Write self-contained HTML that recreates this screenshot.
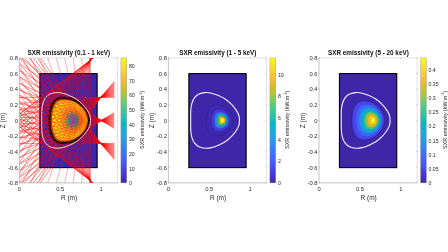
<!DOCTYPE html>
<html lang="en"><head><meta charset="utf-8"><title>SXR emissivity</title>
<style>html,body{margin:0;padding:0;background:#fff}body{width:448px;height:252px;overflow:hidden}svg{display:block}</style>
</head><body>
<svg width="448" height="252" viewBox="0 0 448 252" font-family='"Liberation Sans", Arial, Helvetica, sans-serif'>
<defs>
<linearGradient id="pg" x1="0" y1="1" x2="0" y2="0"><stop offset="0" stop-color="#3e26a8"/><stop offset="0.05" stop-color="#4332cb"/><stop offset="0.1" stop-color="#4741e5"/><stop offset="0.14" stop-color="#4852f4"/><stop offset="0.19" stop-color="#4563fd"/><stop offset="0.24" stop-color="#3875fe"/><stop offset="0.29" stop-color="#2e87f7"/><stop offset="0.33" stop-color="#2797eb"/><stop offset="0.38" stop-color="#20a5e3"/><stop offset="0.43" stop-color="#12b1d6"/><stop offset="0.48" stop-color="#02bac3"/><stop offset="0.52" stop-color="#24c1ae"/><stop offset="0.57" stop-color="#37c897"/><stop offset="0.62" stop-color="#57cc7a"/><stop offset="0.67" stop-color="#81cc59"/><stop offset="0.71" stop-color="#abc739"/><stop offset="0.76" stop-color="#d1bf27"/><stop offset="0.81" stop-color="#f0ba36"/><stop offset="0.86" stop-color="#fec338"/><stop offset="0.9" stop-color="#fad62d"/><stop offset="0.95" stop-color="#f5e924"/><stop offset="1" stop-color="#f9fb15"/></linearGradient>
<clipPath id="axclip"><rect x="19.4" y="57.9" width="98.2" height="125"/></clipPath>
<filter id="soft" x="0" y="0" width="448" height="252" filterUnits="userSpaceOnUse"><feGaussianBlur stdDeviation="0.32"/></filter>
</defs>
<rect width="448" height="252" fill="#fff"/>
<g filter="url(#soft)">
<g transform="translate(0 0)">
<rect x="19.4" y="57.9" width="98.2" height="125" fill="#fff" stroke="none"/>
<rect x="39.86" y="73.62" width="57.28" height="94" fill="#3e26a8" stroke="#000" stroke-width="1.1"/>
<path d="M89.14 120.4L88.88 117.41L88.11 114.48L86.85 111.64L85.15 108.96L83.08 106.47L80.72 104.22L78.13 102.24L75.39 100.58L72.6 99.26L69.81 98.29L65.72 97.71L62.72 97.52L60.23 97.71L58.1 98.29L56.27 99.26L54.7 100.58L53.36 102.24L52.24 104.22L51.33 106.47L50.6 108.96L50.04 111.64L49.65 114.48L49.42 117.41L49.34 120.4L49.42 123.39L49.65 126.32L50.04 129.16L50.6 131.84L51.33 134.33L52.24 136.58L53.36 138.56L54.7 140.22L56.27 141.54L58.1 142.51L60.23 143.09L62.72 143.28L65.72 143.09L69.81 142.51L72.6 141.54L75.39 140.22L78.13 138.56L80.72 136.58L83.08 134.33L85.15 131.84L86.85 129.16L88.11 126.32L88.88 123.39Z" fill="#4537d6"/>
<path d="M88.79 120.4L88.54 117.49L87.79 114.63L86.57 111.86L84.93 109.24L82.93 106.82L80.64 104.62L78.13 102.7L75.48 101.08L72.76 99.79L70.05 98.85L66.1 98.28L63.15 98.09L60.71 98.28L58.62 98.85L56.82 99.79L55.27 101.08L53.96 102.7L52.85 104.62L51.95 106.82L51.23 109.24L50.68 111.86L50.29 114.63L50.06 117.49L49.99 120.4L50.06 123.31L50.29 126.17L50.68 128.94L51.23 131.56L51.95 133.98L52.85 136.18L53.96 138.1L55.27 139.72L56.82 141.01L58.62 141.95L60.71 142.52L63.15 142.71L66.1 142.52L70.05 141.95L72.76 141.01L75.48 139.72L78.13 138.1L80.64 136.18L82.93 133.98L84.93 131.56L86.57 128.94L87.79 126.17L88.54 123.31Z" fill="#21a2e4"/>
<path d="M88.44 120.4L88.19 117.56L87.47 114.77L86.3 112.08L84.71 109.53L82.78 107.17L80.56 105.03L78.13 103.15L75.56 101.57L72.93 100.31L70.29 99.4L66.48 98.85L63.57 98.66L61.18 98.85L59.13 99.4L57.36 100.31L55.84 101.57L54.55 103.15L53.46 105.03L52.57 107.17L51.85 109.53L51.31 112.08L50.93 114.77L50.7 117.56L50.63 120.4L50.7 123.24L50.93 126.03L51.31 128.72L51.85 131.27L52.57 133.63L53.46 135.77L54.55 137.65L55.84 139.23L57.36 140.49L59.13 141.4L61.18 141.95L63.57 142.14L66.48 141.95L70.29 141.4L72.93 140.49L75.56 139.23L78.13 137.65L80.56 135.77L82.78 133.63L84.71 131.27L86.3 128.72L87.47 126.03L88.19 123.24Z" fill="#71cd64"/>
<path d="M88.09 120.4L87.85 117.64L87.15 114.92L86.02 112.3L84.49 109.82L82.62 107.51L80.48 105.43L78.13 103.61L75.64 102.07L73.08 100.84L70.52 99.95L66.85 99.41L63.99 99.23L61.64 99.41L59.63 99.95L57.9 100.84L56.41 102.07L55.13 103.61L54.07 105.43L53.18 107.51L52.48 109.82L51.95 112.3L51.57 114.92L51.34 117.64L51.27 120.4L51.34 123.16L51.57 125.88L51.95 128.5L52.48 130.98L53.18 133.29L54.07 135.37L55.13 137.19L56.41 138.73L57.9 139.96L59.63 140.85L61.64 141.39L63.99 141.57L66.85 141.39L70.52 140.85L73.08 139.96L75.64 138.73L78.13 137.19L80.48 135.37L82.62 133.29L84.49 130.98L86.02 128.5L87.15 125.88L87.85 123.16Z" fill="#fdcc32"/>
<path d="M87.73 120.4L87.5 117.71L86.83 115.07L85.74 112.52L84.27 110.1L82.47 107.86L80.39 105.84L78.12 104.06L75.71 102.56L73.23 101.37L70.74 100.51L67.21 99.98L64.4 99.8L62.1 99.98L60.14 100.51L58.44 101.37L56.97 102.56L55.72 104.06L54.67 105.84L53.8 107.86L53.11 110.1L52.58 112.52L52.21 115.07L51.98 117.71L51.91 120.4L51.98 123.09L52.21 125.73L52.58 128.28L53.11 130.7L53.8 132.94L54.67 134.96L55.72 136.74L56.97 138.24L58.44 139.43L60.14 140.29L62.1 140.82L64.4 141L67.21 140.82L70.74 140.29L73.23 139.43L75.71 138.24L78.12 136.74L80.39 134.96L82.47 132.94L84.27 130.7L85.74 128.28L86.83 125.73L87.5 123.09Z" fill="#f9fb15"/>
<path d="M87.38 120.4L87.16 117.79L86.51 115.22L85.46 112.74L84.04 110.39L82.3 108.21L80.3 106.24L78.11 104.51L75.78 103.06L73.38 101.9L70.96 101.06L67.57 100.55L64.81 100.38L62.56 100.55L60.63 101.06L58.97 101.9L57.53 103.06L56.3 104.51L55.27 106.24L54.42 108.21L53.73 110.39L53.21 112.74L52.84 115.22L52.63 117.79L52.55 120.4L52.63 123.01L52.84 125.58L53.21 128.06L53.73 130.41L54.42 132.59L55.27 134.56L56.3 136.29L57.53 137.74L58.97 138.9L60.63 139.74L62.56 140.25L64.81 140.42L67.57 140.25L70.96 139.74L73.38 138.9L75.78 137.74L78.11 136.29L80.3 134.56L82.3 132.59L84.04 130.41L85.46 128.06L86.51 125.58L87.16 123.01Z" fill="#f9fb15"/>
<path d="M87.02 120.4L86.81 117.86L86.19 115.37L85.18 112.96L83.81 110.67L82.14 108.56L80.21 106.65L78.09 104.97L75.84 103.55L73.52 102.43L71.18 101.61L67.92 101.11L65.21 100.95L63.01 101.11L61.13 101.61L59.49 102.43L58.09 103.55L56.88 104.97L55.87 106.65L55.03 108.56L54.36 110.67L53.84 112.96L53.48 115.37L53.26 117.86L53.19 120.4L53.26 122.94L53.48 125.43L53.84 127.84L54.36 130.13L55.03 132.24L55.87 134.15L56.88 135.83L58.09 137.25L59.49 138.37L61.13 139.19L63.01 139.69L65.21 139.85L67.92 139.69L71.18 139.19L73.52 138.37L75.84 137.25L78.09 135.83L80.21 134.15L82.14 132.24L83.81 130.13L85.18 127.84L86.19 125.43L86.81 122.94Z" fill="#f9fb15"/>
<path d="M86.67 120.4L86.47 117.94L85.87 115.51L84.9 113.17L83.58 110.96L81.97 108.91L80.11 107.05L78.07 105.42L75.89 104.05L73.65 102.96L71.38 102.16L68.26 101.68L65.61 101.52L63.45 101.68L61.61 102.16L60.02 102.96L58.64 104.05L57.46 105.42L56.46 107.05L55.64 108.91L54.98 110.96L54.47 113.17L54.12 115.51L53.9 117.94L53.83 120.4L53.9 122.86L54.12 125.29L54.47 127.63L54.98 129.84L55.64 131.89L56.46 133.75L57.46 135.38L58.64 136.75L60.02 137.84L61.61 138.64L63.45 139.12L65.61 139.28L68.26 139.12L71.38 138.64L73.65 137.84L75.89 136.75L78.07 135.38L80.11 133.75L81.97 131.89L83.58 129.84L84.9 127.63L85.87 125.29L86.47 122.86Z" fill="#f9fb15"/>
<path d="M86.31 120.4L86.12 118.01L85.55 115.66L84.61 113.39L83.35 111.25L81.8 109.25L80.01 107.45L78.04 105.88L75.94 104.54L73.77 103.49L71.59 102.72L68.6 102.25L65.99 102.09L63.89 102.25L62.1 102.72L60.54 103.49L59.19 104.54L58.03 105.88L57.06 107.45L56.25 109.25L55.6 111.25L55.1 113.39L54.75 115.66L54.54 118.01L54.47 120.4L54.54 122.79L54.75 125.14L55.1 127.41L55.6 129.55L56.25 131.55L57.06 133.35L58.03 134.92L59.19 136.26L60.54 137.31L62.1 138.08L63.89 138.55L65.99 138.71L68.6 138.55L71.59 138.08L73.77 137.31L75.94 136.26L78.04 134.92L80.01 133.35L81.8 131.55L83.35 129.55L84.61 127.41L85.55 125.14L86.12 122.79Z" fill="#f9fb15"/>
<path d="M85.96 120.4L85.77 118.09L85.22 115.81L84.33 113.61L83.11 111.53L81.62 109.6L79.9 107.86L78.01 106.33L75.99 105.04L73.9 104.01L71.78 103.27L68.93 102.82L66.38 102.66L64.33 102.82L62.57 103.27L61.05 104.01L59.74 105.04L58.61 106.33L57.65 107.86L56.86 109.6L56.22 111.53L55.73 113.61L55.39 115.81L55.18 118.09L55.11 120.4L55.18 122.71L55.39 124.99L55.73 127.19L56.22 129.27L56.86 131.2L57.65 132.94L58.61 134.47L59.74 135.76L61.05 136.79L62.57 137.53L64.33 137.98L66.38 138.14L68.93 137.98L71.78 137.53L73.9 136.79L75.99 135.76L78.01 134.47L79.9 132.94L81.62 131.2L83.11 129.27L84.33 127.19L85.22 124.99L85.77 122.71Z" fill="#f9fb15"/>
<path d="M85.6 120.4L85.42 118.16L84.9 115.96L84.04 113.83L82.87 111.82L81.45 109.95L79.8 108.26L77.97 106.78L76.03 105.54L74.01 104.54L71.97 103.82L69.26 103.38L66.75 103.24L64.76 103.38L63.05 103.82L61.56 104.54L60.28 105.54L59.17 106.78L58.24 108.26L57.46 109.95L56.84 111.82L56.36 113.83L56.02 115.96L55.82 118.16L55.75 120.4L55.82 122.64L56.02 124.84L56.36 126.97L56.84 128.98L57.46 130.85L58.24 132.54L59.17 134.02L60.28 135.26L61.56 136.26L63.05 136.98L64.76 137.42L66.75 137.56L69.26 137.42L71.97 136.98L74.01 136.26L76.03 135.26L77.97 134.02L79.8 132.54L81.45 130.85L82.87 128.98L84.04 126.97L84.9 124.84L85.42 122.64Z" fill="#f9f916"/>
<path d="M85.25 120.4L85.08 118.23L84.57 116.11L83.75 114.05L82.63 112.1L81.26 110.3L79.68 108.67L77.93 107.24L76.06 106.03L74.12 105.07L72.15 104.37L69.58 103.95L67.12 103.81L65.18 103.95L63.51 104.37L62.07 105.07L60.82 106.03L59.74 107.24L58.83 108.67L58.07 110.3L57.46 112.1L56.99 114.05L56.65 116.11L56.46 118.23L56.39 120.4L56.46 122.57L56.65 124.69L56.99 126.75L57.46 128.7L58.07 130.5L58.83 132.13L59.74 133.56L60.82 134.77L62.07 135.73L63.51 136.43L65.18 136.85L67.12 136.99L69.58 136.85L72.15 136.43L74.12 135.73L76.06 134.77L77.93 133.56L79.68 132.13L81.26 130.5L82.63 128.7L83.75 126.75L84.57 124.69L85.08 122.57Z" fill="#f8f719"/>
<path d="M84.89 120.4L84.73 118.31L84.24 116.25L83.46 114.27L82.39 112.39L81.08 110.65L79.56 109.07L77.88 107.69L76.09 106.53L74.22 105.6L72.33 104.93L69.9 104.52L67.49 104.38L65.59 104.52L63.98 104.93L62.57 105.6L61.35 106.53L60.3 107.69L59.41 109.07L58.67 110.65L58.07 112.39L57.61 114.27L57.29 116.25L57.09 118.31L57.03 120.4L57.09 122.49L57.29 124.55L57.61 126.53L58.07 128.41L58.67 130.15L59.41 131.73L60.3 133.11L61.35 134.27L62.57 135.2L63.98 135.87L65.59 136.28L67.49 136.42L69.9 136.28L72.33 135.87L74.22 135.2L76.09 134.27L77.88 133.11L79.56 131.73L81.08 130.15L82.39 128.41L83.46 126.53L84.24 124.55L84.73 122.49Z" fill="#f7f41c"/>
<path d="M84.53 120.4L84.38 118.38L83.92 116.4L83.17 114.49L82.15 112.68L80.89 111L79.44 109.48L77.83 108.14L76.11 107.02L74.32 106.13L72.5 105.48L70.21 105.08L67.84 104.95L66.01 105.08L64.43 105.48L63.07 106.13L61.88 107.02L60.86 108.14L59.99 109.48L59.27 111L58.69 112.68L58.24 114.49L57.92 116.4L57.73 118.38L57.67 120.4L57.73 122.42L57.92 124.4L58.24 126.31L58.69 128.12L59.27 129.8L59.99 131.32L60.86 132.66L61.88 133.78L63.07 134.67L64.43 135.32L66.01 135.72L67.84 135.85L70.21 135.72L72.5 135.32L74.32 134.67L76.11 133.78L77.83 132.66L79.44 131.32L80.89 129.8L82.15 128.12L83.17 126.31L83.92 124.4L84.38 122.42Z" fill="#f6f11f"/>
<path d="M84.17 120.4L84.03 118.46L83.59 116.55L82.87 114.71L81.9 112.96L80.7 111.34L79.32 109.88L77.78 108.6L76.13 107.52L74.41 106.66L72.66 106.03L70.51 105.65L68.19 105.52L66.41 105.65L64.89 106.03L63.56 106.66L62.41 107.52L61.42 108.6L60.57 109.88L59.87 111.34L59.3 112.96L58.86 114.71L58.55 116.55L58.37 118.46L58.3 120.4L58.37 122.34L58.55 124.25L58.86 126.09L59.3 127.84L59.87 129.46L60.57 130.92L61.42 132.2L62.41 133.28L63.56 134.14L64.89 134.77L66.41 135.15L68.19 135.28L70.51 135.15L72.66 134.77L74.41 134.14L76.13 133.28L77.78 132.2L79.32 130.92L80.7 129.46L81.9 127.84L82.87 126.09L83.59 124.25L84.03 122.34Z" fill="#f5ed22"/>
<path d="M83.82 120.4L83.68 118.53L83.26 116.7L82.57 114.93L81.65 113.25L80.51 111.69L79.18 110.29L77.72 109.05L76.14 108.01L74.49 107.19L72.82 106.58L70.81 106.22L68.54 106.1L66.81 106.22L65.33 106.58L64.05 107.19L62.93 108.01L61.97 109.05L61.15 110.29L60.46 111.69L59.91 113.25L59.48 114.93L59.18 116.7L59 118.53L58.94 120.4L59 122.27L59.18 124.1L59.48 125.87L59.91 127.55L60.46 129.11L61.15 130.51L61.97 131.75L62.93 132.79L64.05 133.61L65.33 134.22L66.81 134.58L68.54 134.7L70.81 134.58L72.82 134.22L74.49 133.61L76.14 132.79L77.72 131.75L79.18 130.51L80.51 129.11L81.65 127.55L82.57 125.87L83.26 124.1L83.68 122.27Z" fill="#f5e825"/>
<path d="M83.46 120.4L83.32 118.61L82.93 116.85L82.28 115.15L81.4 113.53L80.31 112.04L79.05 110.69L77.65 109.51L76.14 108.51L74.57 107.71L72.97 107.14L71.11 106.79L68.87 106.67L67.2 106.79L65.77 107.14L64.53 107.71L63.45 108.51L62.52 109.51L61.72 110.69L61.06 112.04L60.52 113.53L60.1 115.15L59.81 116.85L59.63 118.61L59.58 120.4L59.63 122.19L59.81 123.95L60.1 125.65L60.52 127.27L61.06 128.76L61.72 130.11L62.52 131.29L63.45 132.29L64.53 133.09L65.77 133.66L67.2 134.01L68.87 134.13L71.11 134.01L72.97 133.66L74.57 133.09L76.14 132.29L77.65 131.29L79.05 130.11L80.31 128.76L81.4 127.27L82.28 125.65L82.93 123.95L83.32 122.19Z" fill="#f5e227"/>
<path d="M83.1 120.4L82.97 118.68L82.59 116.99L81.98 115.36L81.14 113.82L80.11 112.39L78.91 111.1L77.58 109.96L76.14 109L74.64 108.24L73.11 107.69L71.42 107.35L69.2 107.24L67.59 107.35L66.21 107.69L65.01 108.24L63.97 109L63.06 109.96L62.29 111.1L61.65 112.39L61.13 113.82L60.72 115.36L60.44 116.99L60.27 118.68L60.21 120.4L60.27 122.12L60.44 123.81L60.72 125.44L61.13 126.98L61.65 128.41L62.29 129.7L63.06 130.84L63.97 131.8L65.01 132.56L66.21 133.11L67.59 133.45L69.2 133.56L71.42 133.45L73.11 133.11L74.64 132.56L76.14 131.8L77.58 130.84L78.91 129.7L80.11 128.41L81.14 126.98L81.98 125.44L82.59 123.81L82.97 122.12Z" fill="#f7db2a"/>
<path d="M82.74 120.4L82.62 118.76L82.26 117.14L81.68 115.58L80.88 114.11L79.91 112.74L78.77 111.5L77.5 110.41L76.14 109.5L74.71 108.77L73.25 108.24L71.74 107.92L69.53 107.81L67.97 107.92L66.64 108.24L65.49 108.77L64.48 109.5L63.61 110.41L62.86 111.5L62.24 112.74L61.73 114.11L61.34 115.58L61.07 117.14L60.9 118.76L60.85 120.4L60.9 122.04L61.07 123.66L61.34 125.22L61.73 126.69L62.24 128.06L62.86 129.3L63.61 130.39L64.48 131.3L65.49 132.03L66.64 132.56L67.97 132.88L69.53 132.99L71.74 132.88L73.25 132.56L74.71 132.03L76.14 131.3L77.5 130.39L78.77 129.3L79.91 128.06L80.88 126.69L81.68 125.22L82.26 123.66L82.62 122.04Z" fill="#fbd32e"/>
<path d="M82.37 120.4L82.26 118.83L81.92 117.29L81.37 115.8L80.62 114.39L79.7 113.09L78.62 111.9L77.42 110.87L76.12 110L74.77 109.3L73.37 108.79L71.98 108.49L69.84 108.39L68.34 108.49L67.06 108.79L65.95 109.3L64.98 110L64.14 110.87L63.42 111.9L62.82 113.09L62.34 114.39L61.96 115.8L61.69 117.29L61.53 118.83L61.48 120.4L61.53 121.97L61.69 123.51L61.96 125L62.34 126.41L62.82 127.71L63.42 128.9L64.14 129.93L64.98 130.8L65.95 131.5L67.06 132.01L68.34 132.31L69.84 132.41L71.98 132.31L73.37 132.01L74.77 131.5L76.12 130.8L77.42 129.93L78.62 128.9L79.7 127.71L80.62 126.41L81.37 125L81.92 123.51L82.26 121.97Z" fill="#fdcb33"/>
<path d="M82.01 120.4L81.9 118.91L81.58 117.44L81.07 116.02L80.36 114.68L79.49 113.43L78.47 112.31L77.33 111.32L76.11 110.49L74.82 109.83L73.5 109.35L72.17 109.06L70.15 108.96L68.7 109.06L67.48 109.35L66.42 109.83L65.49 110.49L64.68 111.32L63.99 112.31L63.41 113.43L62.94 114.68L62.57 116.02L62.32 117.44L62.16 118.91L62.11 120.4L62.16 121.89L62.32 123.36L62.57 124.78L62.94 126.12L63.41 127.37L63.99 128.49L64.68 129.48L65.49 130.31L66.42 130.97L67.48 131.45L68.7 131.74L70.15 131.84L72.17 131.74L73.5 131.45L74.82 130.97L76.11 130.31L77.33 129.48L78.47 128.49L79.49 127.37L80.36 126.12L81.07 124.78L81.58 123.36L81.9 121.89Z" fill="#fec13a"/>
<path d="M81.64 120.4L81.54 118.98L81.24 117.59L80.75 116.24L80.08 114.96L79.25 113.78L78.29 112.71L77.21 111.78L76.04 110.99L74.82 110.36L73.57 109.9L72.3 109.62L70.39 109.53L69.01 109.62L67.85 109.9L66.84 110.36L65.95 110.99L65.18 111.78L64.53 112.71L63.97 113.78L63.53 114.96L63.18 116.24L62.94 117.59L62.79 118.98L62.74 120.4L62.79 121.82L62.94 123.21L63.18 124.56L63.53 125.84L63.97 127.02L64.53 128.09L65.18 129.02L65.95 129.81L66.84 130.44L67.85 130.9L69.01 131.18L70.39 131.27L72.3 131.18L73.57 130.9L74.82 130.44L76.04 129.81L77.21 129.02L78.29 128.09L79.25 127.02L80.08 125.84L80.75 124.56L81.24 123.21L81.54 121.82Z" fill="#f8ba3d"/>
<path d="M81.28 120.4L81.18 119.06L80.9 117.73L80.43 116.46L79.8 115.25L79.01 114.13L78.1 113.12L77.07 112.23L75.97 111.48L74.81 110.89L73.62 110.45L72.43 110.19L70.61 110.1L69.31 110.19L68.21 110.45L67.25 110.89L66.41 111.48L65.68 112.23L65.06 113.12L64.54 114.13L64.11 115.25L63.79 116.46L63.55 117.73L63.41 119.06L63.37 120.4L63.41 121.74L63.55 123.07L63.79 124.34L64.11 125.55L64.54 126.67L65.06 127.68L65.68 128.57L66.41 129.32L67.25 129.91L68.21 130.35L69.31 130.61L70.61 130.7L72.43 130.61L73.62 130.35L74.81 129.91L75.97 129.32L77.07 128.57L78.1 127.68L79.01 126.67L79.8 125.55L80.43 124.34L80.9 123.07L81.18 121.74Z" fill="#e7bb2e"/>
<path d="M80.91 120.4L80.82 119.13L80.55 117.88L80.11 116.68L79.51 115.54L78.77 114.48L77.9 113.52L76.94 112.68L75.9 111.98L74.8 111.41L73.68 111.01L72.55 110.76L70.84 110.67L69.61 110.76L68.57 111.01L67.66 111.41L66.87 111.98L66.18 112.68L65.59 113.52L65.1 114.48L64.7 115.54L64.39 116.68L64.17 117.88L64.04 119.13L64 120.4L64.04 121.67L64.17 122.92L64.39 124.12L64.7 125.26L65.1 126.32L65.59 127.28L66.18 128.12L66.87 128.82L67.66 129.39L68.57 129.79L69.61 130.04L70.84 130.13L72.55 130.04L73.68 129.79L74.8 129.39L75.9 128.82L76.94 128.12L77.9 127.28L78.77 126.32L79.51 125.26L80.11 124.12L80.55 122.92L80.82 121.67Z" fill="#d1bf27"/>
<path d="M80.54 120.4L80.45 119.21L80.2 118.03L79.79 116.9L79.22 115.82L78.52 114.83L77.71 113.93L76.8 113.14L75.82 112.47L74.79 111.94L73.74 111.56L72.67 111.32L71.06 111.25L69.9 111.32L68.92 111.56L68.07 111.94L67.33 112.47L66.68 113.14L66.12 113.93L65.66 114.83L65.28 115.82L64.99 116.9L64.79 118.03L64.66 119.21L64.62 120.4L64.66 121.59L64.79 122.77L64.99 123.9L65.28 124.98L65.66 125.97L66.12 126.87L66.68 127.66L67.33 128.33L68.07 128.86L68.92 129.24L69.9 129.48L71.06 129.55L72.67 129.48L73.74 129.24L74.79 128.86L75.82 128.33L76.8 127.66L77.71 126.87L78.52 125.97L79.22 124.98L79.79 123.9L80.2 122.77L80.45 121.59Z" fill="#b6c532"/>
<path d="M80.17 120.4L80.09 119.28L79.85 118.18L79.46 117.12L78.93 116.11L78.28 115.18L77.52 114.33L76.66 113.59L75.75 112.97L74.78 112.47L73.79 112.11L72.79 111.89L71.28 111.82L70.2 111.89L69.28 112.11L68.48 112.47L67.78 112.97L67.17 113.59L66.65 114.33L66.22 115.18L65.86 116.11L65.59 117.12L65.4 118.18L65.28 119.28L65.24 120.4L65.28 121.52L65.4 122.62L65.59 123.68L65.86 124.69L66.22 125.62L66.65 126.47L67.17 127.21L67.78 127.83L68.48 128.33L69.28 128.69L70.2 128.91L71.28 128.98L72.79 128.91L73.79 128.69L74.78 128.33L75.75 127.83L76.66 127.21L77.52 126.47L78.28 125.62L78.93 124.69L79.46 123.68L79.85 122.62L80.09 121.52Z" fill="#96ca49"/>
<path d="M79.79 120.4L79.72 119.35L79.5 118.33L79.13 117.33L78.64 116.4L78.03 115.52L77.32 114.74L76.52 114.05L75.67 113.46L74.76 113L73.84 112.66L72.91 112.46L71.5 112.39L70.49 112.46L69.63 112.66L68.88 113L68.23 113.46L67.66 114.05L67.18 114.74L66.77 115.52L66.44 116.4L66.19 117.33L66.01 118.33L65.9 119.35L65.86 120.4L65.9 121.45L66.01 122.47L66.19 123.47L66.44 124.4L66.77 125.28L67.18 126.06L67.66 126.75L68.23 127.34L68.88 127.8L69.63 128.14L70.49 128.34L71.5 128.41L72.91 128.34L73.84 128.14L74.76 127.8L75.67 127.34L76.52 126.75L77.32 126.06L78.03 125.28L78.64 124.4L79.13 123.47L79.5 122.47L79.72 121.45Z" fill="#72cd63"/>
<path d="M79.42 120.4L79.35 119.43L79.14 118.48L78.8 117.55L78.34 116.68L77.78 115.87L77.12 115.14L76.38 114.5L75.58 113.96L74.75 113.53L73.89 113.22L73.02 113.03L71.71 112.96L70.77 113.03L69.98 113.22L69.28 113.53L68.68 113.96L68.15 114.5L67.7 115.14L67.33 115.87L67.02 116.68L66.78 117.55L66.61 118.48L66.51 119.43L66.48 120.4L66.51 121.37L66.61 122.32L66.78 123.25L67.02 124.12L67.33 124.93L67.7 125.66L68.15 126.3L68.68 126.84L69.28 127.27L69.98 127.58L70.77 127.77L71.71 127.84L73.02 127.77L73.89 127.58L74.75 127.27L75.58 126.84L76.38 126.3L77.12 125.66L77.78 124.93L78.34 124.12L78.8 123.25L79.14 122.32L79.35 121.37Z" fill="#50cc7f"/>
<path d="M79.03 120.4L78.97 119.5L78.78 118.62L78.47 117.77L78.05 116.97L77.52 116.22L76.91 115.55L76.23 114.95L75.5 114.45L74.72 114.06L73.93 113.77L73.14 113.59L71.92 113.53L71.06 113.59L70.32 113.77L69.68 114.06L69.12 114.45L68.64 114.95L68.22 115.55L67.87 116.22L67.59 116.97L67.37 117.77L67.22 118.62L67.12 119.5L67.09 120.4L67.12 121.3L67.22 122.18L67.37 123.03L67.59 123.83L67.87 124.58L68.22 125.25L68.64 125.85L69.12 126.35L69.68 126.74L70.32 127.03L71.06 127.21L71.92 127.27L73.14 127.21L73.93 127.03L74.72 126.74L75.5 126.35L76.23 125.85L76.91 125.25L77.52 124.58L78.05 123.83L78.47 123.03L78.78 122.18L78.97 121.3Z" fill="#37c898"/>
<path d="M78.65 120.4L78.59 119.58L78.42 118.77L78.13 117.99L77.74 117.25L77.26 116.57L76.7 115.95L76.08 115.41L75.41 114.95L74.7 114.59L73.97 114.32L73.24 114.16L72.13 114.11L71.34 114.16L70.66 114.32L70.08 114.59L69.56 114.95L69.12 115.41L68.74 115.95L68.42 116.57L68.16 117.25L67.96 117.99L67.82 118.77L67.73 119.58L67.7 120.4L67.73 121.22L67.82 122.03L67.96 122.81L68.16 123.55L68.42 124.23L68.74 124.85L69.12 125.39L69.56 125.85L70.08 126.21L70.66 126.48L71.34 126.64L72.13 126.69L73.24 126.64L73.97 126.48L74.7 126.21L75.41 125.85L76.08 125.39L76.7 124.85L77.26 124.23L77.74 123.55L78.13 122.81L78.42 122.03L78.59 121.22Z" fill="#27c2ac"/>
<path d="M78.26 120.4L78.21 119.65L78.05 118.92L77.79 118.21L77.44 117.54L77 116.92L76.49 116.35L75.92 115.86L75.31 115.45L74.67 115.11L74.01 114.87L73.34 114.73L72.33 114.68L71.61 114.73L71 114.87L70.47 115.11L70 115.45L69.6 115.86L69.25 116.35L68.96 116.92L68.72 117.54L68.54 118.21L68.41 118.92L68.33 119.65L68.31 120.4L68.33 121.15L68.41 121.88L68.54 122.59L68.72 123.26L68.96 123.88L69.25 124.45L69.6 124.94L70 125.35L70.47 125.69L71 125.93L71.61 126.07L72.33 126.12L73.34 126.07L74.01 125.93L74.67 125.69L75.31 125.35L75.92 124.94L76.49 124.45L77 123.88L77.44 123.26L77.79 122.59L78.05 121.88L78.21 121.15Z" fill="#09bcbe"/>
<path d="M77.86 120.4L77.82 119.73L77.67 119.07L77.44 118.43L77.12 117.83L76.73 117.27L76.27 116.76L75.76 116.31L75.21 115.94L74.63 115.64L74.04 115.43L73.44 115.29L72.53 115.25L71.88 115.29L71.33 115.43L70.85 115.64L70.43 115.94L70.07 116.31L69.76 116.76L69.49 117.27L69.28 117.83L69.12 118.43L69 119.07L68.93 119.73L68.91 120.4L68.93 121.07L69 121.73L69.12 122.37L69.28 122.97L69.49 123.53L69.76 124.04L70.07 124.49L70.43 124.86L70.85 125.16L71.33 125.37L71.88 125.51L72.53 125.55L73.44 125.51L74.04 125.37L74.63 125.16L75.21 124.86L75.76 124.49L76.27 124.04L76.73 123.53L77.12 122.97L77.44 122.37L77.67 121.73L77.82 121.07Z" fill="#06b6ce"/>
<path d="M77.46 120.4L77.42 119.8L77.29 119.22L77.09 118.65L76.8 118.11L76.46 117.61L76.05 117.16L75.59 116.77L75.1 116.44L74.59 116.17L74.06 115.98L73.53 115.86L72.72 115.82L72.14 115.86L71.65 115.98L71.23 116.17L70.86 116.44L70.53 116.77L70.25 117.16L70.02 117.61L69.83 118.11L69.69 118.65L69.59 119.22L69.52 119.8L69.5 120.4L69.52 121L69.59 121.58L69.69 122.15L69.83 122.69L70.02 123.19L70.25 123.64L70.53 124.03L70.86 124.36L71.23 124.63L71.65 124.82L72.14 124.94L72.72 124.98L73.53 124.94L74.06 124.82L74.59 124.63L75.1 124.36L75.59 124.03L76.05 123.64L76.46 123.19L76.8 122.69L77.09 122.15L77.29 121.58L77.42 121Z" fill="#18addb"/>
<path d="M77.05 120.4L77.02 119.88L76.91 119.36L76.72 118.87L76.48 118.4L76.17 117.96L75.82 117.57L75.42 117.22L74.99 116.93L74.54 116.7L74.08 116.53L73.61 116.43L72.91 116.4L72.4 116.43L71.97 116.53L71.6 116.7L71.27 116.93L70.99 117.22L70.75 117.57L70.54 117.96L70.38 118.4L70.25 118.87L70.16 119.36L70.11 119.88L70.09 120.4L70.11 120.92L70.16 121.44L70.25 121.93L70.38 122.4L70.54 122.84L70.75 123.23L70.99 123.58L71.27 123.87L71.6 124.1L71.97 124.27L72.4 124.37L72.91 124.4L73.61 124.37L74.08 124.27L74.54 124.1L74.99 123.87L75.42 123.58L75.82 123.23L76.17 122.84L76.48 122.4L76.72 121.93L76.91 121.44L77.02 120.92Z" fill="#21a4e3"/>
<path d="M76.64 120.4L76.61 119.95L76.51 119.51L76.36 119.09L76.14 118.68L75.88 118.31L75.58 117.97L75.24 117.68L74.87 117.43L74.48 117.23L74.09 117.08L73.69 117L73.08 116.97L72.65 117L72.28 117.08L71.96 117.23L71.68 117.43L71.44 117.68L71.23 117.97L71.06 118.31L70.92 118.68L70.81 119.09L70.73 119.51L70.68 119.95L70.67 120.4L70.68 120.85L70.73 121.29L70.81 121.71L70.92 122.12L71.06 122.49L71.23 122.83L71.44 123.12L71.68 123.37L71.96 123.57L72.28 123.72L72.65 123.8L73.08 123.83L73.69 123.8L74.09 123.72L74.48 123.57L74.87 123.37L75.24 123.12L75.58 122.83L75.88 122.49L76.14 122.12L76.36 121.71L76.51 121.29L76.61 120.85Z" fill="#269ae8"/>
<path d="M76.21 120.4L76.19 120.03L76.11 119.66L75.98 119.31L75.8 118.97L75.58 118.66L75.33 118.38L75.04 118.13L74.74 117.92L74.42 117.76L74.09 117.64L73.75 117.56L73.25 117.54L72.89 117.56L72.58 117.64L72.32 117.76L72.08 117.92L71.88 118.13L71.71 118.38L71.56 118.66L71.44 118.97L71.35 119.31L71.29 119.66L71.25 120.03L71.24 120.4L71.25 120.77L71.29 121.14L71.35 121.49L71.44 121.83L71.56 122.14L71.71 122.42L71.88 122.67L72.08 122.88L72.32 123.04L72.58 123.16L72.89 123.24L73.25 123.26L73.75 123.24L74.09 123.16L74.42 123.04L74.74 122.88L75.04 122.67L75.33 122.42L75.58 122.14L75.8 121.83L75.98 121.49L76.11 121.14L76.19 120.77Z" fill="#2b92ee"/>
<path d="M75.78 120.4L75.75 120.1L75.69 119.81L75.59 119.52L75.45 119.26L75.27 119.01L75.07 118.78L74.84 118.58L74.6 118.42L74.34 118.29L74.07 118.19L73.81 118.13L73.41 118.11L73.12 118.13L72.87 118.19L72.66 118.29L72.47 118.42L72.31 118.58L72.17 118.78L72.06 119.01L71.96 119.26L71.89 119.52L71.84 119.81L71.81 120.1L71.8 120.4L71.81 120.7L71.84 120.99L71.89 121.28L71.96 121.54L72.06 121.79L72.17 122.02L72.31 122.22L72.47 122.38L72.66 122.51L72.87 122.61L73.12 122.67L73.41 122.69L73.81 122.67L74.07 122.61L74.34 122.51L74.6 122.38L74.84 122.22L75.07 122.02L75.27 121.79L75.45 121.54L75.59 121.28L75.69 120.99L75.75 120.7Z" fill="#2d8af4"/>
<path d="M75.33 120.4L75.31 120.18L75.26 119.96L75.19 119.74L75.08 119.54L74.95 119.36L74.8 119.19L74.63 119.04L74.44 118.91L74.25 118.81L74.05 118.74L73.85 118.7L73.55 118.68L73.33 118.7L73.15 118.74L72.99 118.81L72.85 118.91L72.73 119.04L72.62 119.19L72.54 119.36L72.47 119.54L72.41 119.74L72.37 119.96L72.35 120.18L72.34 120.4L72.35 120.62L72.37 120.84L72.41 121.06L72.47 121.26L72.54 121.44L72.62 121.61L72.73 121.76L72.85 121.89L72.99 121.99L73.15 122.06L73.33 122.1L73.55 122.12L73.85 122.1L74.05 122.06L74.25 121.99L74.44 121.89L74.63 121.76L74.8 121.61L74.95 121.44L75.08 121.26L75.19 121.06L75.26 120.84L75.31 120.62Z" fill="#2e84f8"/>
<path d="M74.87 120.4L74.85 120.25L74.82 120.1L74.77 119.96L74.7 119.83L74.61 119.7L74.51 119.59L74.4 119.49L74.28 119.41L74.15 119.34L74.02 119.29L73.88 119.27L73.68 119.26L73.54 119.27L73.41 119.29L73.31 119.34L73.21 119.41L73.13 119.49L73.06 119.59L73.01 119.7L72.96 119.83L72.92 119.96L72.9 120.1L72.88 120.25L72.88 120.4L72.88 120.55L72.9 120.7L72.92 120.84L72.96 120.97L73.01 121.1L73.06 121.21L73.13 121.31L73.21 121.39L73.31 121.46L73.41 121.51L73.54 121.53L73.68 121.54L73.88 121.53L74.02 121.51L74.15 121.46L74.28 121.39L74.4 121.31L74.51 121.21L74.61 121.1L74.7 120.97L74.77 120.84L74.82 120.7L74.85 120.55Z" fill="#2f80fa"/>
<path d="M74.39 120.4L74.38 120.33L74.37 120.25L74.34 120.18L74.31 120.11L74.26 120.05L74.21 120L74.16 119.95L74.1 119.9L74.03 119.87L73.96 119.85L73.9 119.83L73.8 119.83L73.73 119.83L73.66 119.85L73.61 119.87L73.56 119.9L73.52 119.95L73.49 120L73.46 120.05L73.44 120.11L73.42 120.18L73.41 120.25L73.4 120.33L73.4 120.4L73.4 120.47L73.41 120.55L73.42 120.62L73.44 120.69L73.46 120.75L73.49 120.8L73.52 120.85L73.56 120.9L73.61 120.93L73.66 120.95L73.73 120.97L73.8 120.97L73.9 120.97L73.96 120.95L74.03 120.93L74.1 120.9L74.16 120.85L74.21 120.8L74.26 120.75L74.31 120.69L74.34 120.62L74.37 120.55L74.38 120.47Z" fill="#317efb"/>
<path d="M89.07 120.4L88.81 117.43L88.04 114.51L86.79 111.69L85.11 109.02L83.05 106.54L80.7 104.3L78.13 102.34L75.41 100.68L72.63 99.36L69.86 98.41L65.8 97.82L62.8 97.63L60.33 97.82L58.21 98.41L56.38 99.36L54.81 100.68L53.48 102.34L52.37 104.3L51.45 106.54L50.72 109.02L50.17 111.69L49.78 114.51L49.55 117.43L49.47 120.4L49.55 123.37L49.78 126.29L50.17 129.11L50.72 131.78L51.45 134.26L52.37 136.5L53.48 138.46L54.81 140.12L56.38 141.44L58.21 142.39L60.33 142.98L62.8 143.17L65.8 142.98L69.86 142.39L72.63 141.44L75.41 140.12L78.13 138.46L80.7 136.5L83.05 134.26L85.11 131.79L86.79 129.11L88.04 126.29L88.81 123.37Z" fill="none" stroke="#000" stroke-opacity="1.0" stroke-width="2.2"/>
<path d="M88.01 120.4L87.78 117.65L87.08 114.95L85.96 112.35L84.44 109.88L82.59 107.59L80.46 105.52L78.13 103.7L75.66 102.17L73.12 100.96L70.57 100.07L66.92 99.54L64.08 99.36L61.74 99.54L59.74 100.07L58.02 100.96L56.53 102.17L55.26 103.7L54.2 105.52L53.32 107.59L52.62 109.88L52.08 112.35L51.71 114.95L51.48 117.65L51.41 120.4L51.48 123.15L51.71 125.85L52.08 128.45L52.62 130.92L53.32 133.21L54.2 135.28L55.26 137.1L56.53 138.63L58.02 139.84L59.74 140.73L61.74 141.26L64.08 141.44L66.92 141.26L70.57 140.73L73.12 139.84L75.66 138.63L78.13 137.1L80.46 135.28L82.59 133.21L84.44 130.92L85.96 128.45L87.08 125.85L87.78 123.15Z" fill="none" stroke="#000" stroke-opacity="0.4" stroke-width="1.0"/>
<path d="M87.3 120.4L87.08 117.8L86.44 115.25L85.4 112.79L83.99 110.45L82.27 108.29L80.28 106.33L78.1 104.62L75.79 103.17L73.41 102.02L71.01 101.18L67.65 100.68L64.9 100.51L62.66 100.68L60.74 101.18L59.09 102.02L57.66 103.17L56.43 104.62L55.4 106.33L54.55 108.29L53.87 110.45L53.35 112.79L52.99 115.25L52.77 117.8L52.7 120.4L52.77 123L52.99 125.55L53.35 128.01L53.87 130.35L54.55 132.51L55.4 134.47L56.43 136.18L57.66 137.63L59.09 138.78L60.74 139.62L62.66 140.12L64.9 140.3L67.65 140.12L71.01 139.62L73.41 138.78L75.79 137.63L78.1 136.18L80.28 134.47L82.27 132.51L83.99 130.35L85.4 128.01L86.44 125.55L87.08 123Z" fill="none" stroke="#000" stroke-opacity="0.2" stroke-width="0.9"/>
<path d="M86.59 120.4L86.39 117.95L85.79 115.55L84.83 113.23L83.53 111.03L81.93 108.99L80.09 107.15L78.06 105.53L75.91 104.17L73.68 103.08L71.43 102.29L68.34 101.82L65.7 101.66L63.56 101.82L61.73 102.29L60.14 103.08L58.77 104.17L57.6 105.53L56.6 107.15L55.78 108.99L55.13 111.03L54.62 113.23L54.27 115.55L54.06 117.95L53.99 120.4L54.06 122.85L54.27 125.25L54.62 127.57L55.13 129.77L55.78 131.81L56.6 133.65L57.6 135.27L58.77 136.63L60.14 137.72L61.73 138.51L63.56 138.98L65.7 139.15L68.34 138.98L71.43 138.51L73.68 137.72L75.91 136.63L78.06 135.27L80.09 133.65L81.93 131.81L83.53 129.77L84.83 127.57L85.79 125.25L86.39 122.85Z" fill="none" stroke="#000" stroke-opacity="0.1" stroke-width="0.9"/>
<g clip-path="url(#axclip)" fill="none" stroke="#ff0000" stroke-width="0.45">
<path stroke-width="0.32" d="M90.1 60.4L90.1 460.4M90.1 60.4L62.47 459.44M90.1 60.4L35.22 456.62M90.1 60.4L8.73 452.04M90.1 60.4L-16.68 445.88M90.1 60.4L-40.78 438.38M90.1 60.4L-63.38 429.78"/>
<path stroke-width="0.42" d="M90.1 60.4L-84.38 420.34M90.1 60.4L-103.75 410.29M90.1 60.4L-121.48 399.86M90.1 60.4L-137.63 389.24M90.1 60.4L-152.29 378.59M90.1 60.4L-165.55 368.04M90.1 60.4L-177.53 357.68"/>
<path stroke-width="0.5" d="M90.1 60.4L-188.33 347.58M90.1 60.4L-198.07 337.81M90.1 60.4L-206.85 328.4M90.1 60.4L-214.76 319.36M90.1 60.4L-221.91 310.7"/>
<path stroke-width="0.75" d="M90.1 60.4L-228.36 302.43"/>
<path d="M90.1 60.4L90.1 30.4M90.1 60.4L92.2 30.47M90.1 60.4L94.27 30.69M90.1 60.4L96.28 31.04M90.1 60.4L98.21 31.52M90.1 60.4L100.03 32.09M90.1 60.4L101.74 32.75M90.1 60.4L103.33 33.47M90.1 60.4L104.79 34.24M90.1 60.4L106.12 35.04M90.1 60.4L107.33 35.84M90.1 60.4L108.43 36.65M90.1 60.4L109.42 37.45M90.1 60.4L110.32 38.24M90.1 60.4L111.12 39M90.1 60.4L111.85 39.74M90.1 60.4L112.5 40.45M90.1 60.4L113.09 41.13M90.1 60.4L113.62 41.78M90.1 60.4L114.1 42.4"/>
<path stroke-width="0.32" d="M90.1 180.4L90.1 -219.6M90.1 180.4L62.47 -218.64M90.1 180.4L35.22 -215.82M90.1 180.4L8.73 -211.24M90.1 180.4L-16.68 -205.08M90.1 180.4L-40.78 -197.58M90.1 180.4L-63.38 -188.98"/>
<path stroke-width="0.42" d="M90.1 180.4L-84.38 -179.54M90.1 180.4L-103.75 -169.49M90.1 180.4L-121.48 -159.06M90.1 180.4L-137.63 -148.44M90.1 180.4L-152.29 -137.79M90.1 180.4L-165.55 -127.24M90.1 180.4L-177.53 -116.88"/>
<path stroke-width="0.5" d="M90.1 180.4L-188.33 -106.78M90.1 180.4L-198.07 -97.01M90.1 180.4L-206.85 -87.6M90.1 180.4L-214.76 -78.56M90.1 180.4L-221.91 -69.9"/>
<path stroke-width="0.75" d="M90.1 180.4L-228.36 -61.63"/>
<path d="M90.1 180.4L90.1 210.4M90.1 180.4L92.2 210.33M90.1 180.4L94.27 210.11M90.1 180.4L96.28 209.76M90.1 180.4L98.21 209.28M90.1 180.4L100.03 208.71M90.1 180.4L101.74 208.05M90.1 180.4L103.33 207.33M90.1 180.4L104.79 206.56M90.1 180.4L106.12 205.76M90.1 180.4L107.33 204.96M90.1 180.4L108.43 204.15M90.1 180.4L109.42 203.35M90.1 180.4L110.32 202.56M90.1 180.4L111.12 201.8M90.1 180.4L111.85 201.06M90.1 180.4L112.5 200.35M90.1 180.4L113.09 199.67M90.1 180.4L113.62 199.02M90.1 180.4L114.1 198.4"/>
<path d="M100.6 97.4L-299.4 97.4M100.6 97.4L-298.29 127.21M100.6 97.4L-295.01 156.53M100.6 97.4L-289.71 184.91M100.6 97.4L-282.64 211.97M100.6 97.4L-274.09 237.42M100.6 97.4L-264.38 261.07M100.6 97.4L-253.83 282.82M100.6 97.4L-242.72 302.67M100.6 97.4L-231.3 320.65M100.6 97.4L-219.8 336.86M100.6 97.4L-208.39 351.42M100.6 97.4L-197.18 364.47M100.6 97.4L-186.29 376.14M100.6 97.4L-175.77 386.57M100.6 97.4L-165.67 395.9M100.6 97.4L-156 404.25M100.6 97.4L-146.79 411.72M100.6 97.4L-138.03 418.42M100.6 97.4L-129.71 424.44"/>
<path d="M100.6 97.4L114.4 97.4M100.6 97.4L114.4 96.56M100.6 97.4L114.4 95.71M100.6 97.4L114.4 94.87M100.6 97.4L114.4 94.03M100.6 97.4L114.4 93.19M100.6 97.4L114.4 92.34M100.6 97.4L114.4 91.5M100.6 97.4L114.4 90.66M100.6 97.4L114.4 89.82M100.6 97.4L114.4 88.97M100.6 97.4L114.4 88.13M100.6 97.4L114.4 87.29M100.6 97.4L114.4 86.45M100.6 97.4L114.4 85.6M100.6 97.4L114.4 84.76M100.6 97.4L114.4 83.92M100.6 97.4L114.4 83.08M100.6 97.4L114.4 82.23M100.6 97.4L114.4 81.39"/>
<path d="M100.6 143.4L-299.4 143.4M100.6 143.4L-298.29 113.59M100.6 143.4L-295.01 84.27M100.6 143.4L-289.71 55.89M100.6 143.4L-282.64 28.83M100.6 143.4L-274.09 3.38M100.6 143.4L-264.38 -20.27M100.6 143.4L-253.83 -42.02M100.6 143.4L-242.72 -61.87M100.6 143.4L-231.3 -79.85M100.6 143.4L-219.8 -96.06M100.6 143.4L-208.39 -110.62M100.6 143.4L-197.18 -123.67M100.6 143.4L-186.29 -135.34M100.6 143.4L-175.77 -145.77M100.6 143.4L-165.67 -155.1M100.6 143.4L-156 -163.45M100.6 143.4L-146.79 -170.92M100.6 143.4L-138.03 -177.62M100.6 143.4L-129.71 -183.64"/>
<path d="M100.6 143.4L114.4 143.4M100.6 143.4L114.4 144.24M100.6 143.4L114.4 145.09M100.6 143.4L114.4 145.93M100.6 143.4L114.4 146.77M100.6 143.4L114.4 147.61M100.6 143.4L114.4 148.46M100.6 143.4L114.4 149.3M100.6 143.4L114.4 150.14M100.6 143.4L114.4 150.98M100.6 143.4L114.4 151.83M100.6 143.4L114.4 152.67M100.6 143.4L114.4 153.51M100.6 143.4L114.4 154.35M100.6 143.4L114.4 155.2M100.6 143.4L114.4 156.04M100.6 143.4L114.4 156.88M100.6 143.4L114.4 157.72M100.6 143.4L114.4 158.57M100.6 143.4L114.4 159.41"/>
<path d="M101.2 120.5L-214.2 -125.51M101.2 120.5L-226.82 -108.42M101.2 120.5L-239.4 -89.24M101.2 120.5L-251.69 -67.83M101.2 120.5L-263.35 -44.12M101.2 120.5L-274.01 -18.13M101.2 120.5L-283.24 10.02M101.2 120.5L-290.63 40.07M101.2 120.5L-295.8 71.61M101.2 120.5L-298.46 104.09M101.2 120.5L-298.46 136.91M101.2 120.5L-295.8 169.39M101.2 120.5L-290.63 200.93M101.2 120.5L-283.24 230.98M101.2 120.5L-274.01 259.13M101.2 120.5L-263.35 285.12M101.2 120.5L-251.69 308.83M101.2 120.5L-239.4 330.24M101.2 120.5L-226.82 349.42M101.2 120.5L-214.2 366.51"/>
<path d="M101.2 120.5L114.2 112.57M101.2 120.5L114.2 113.4M101.2 120.5L114.2 114.24M101.2 120.5L114.2 115.07M101.2 120.5L114.2 115.91M101.2 120.5L114.2 116.74M101.2 120.5L114.2 117.58M101.2 120.5L114.2 118.41M101.2 120.5L114.2 119.25M101.2 120.5L114.2 120.08M101.2 120.5L114.2 120.92M101.2 120.5L114.2 121.75M101.2 120.5L114.2 122.59M101.2 120.5L114.2 123.42M101.2 120.5L114.2 124.26M101.2 120.5L114.2 125.09M101.2 120.5L114.2 125.93M101.2 120.5L114.2 126.76M101.2 120.5L114.2 127.6M101.2 120.5L114.2 128.43"/>
</g>
<g opacity="0.28">
<path d="M88.22 120.4L87.98 117.61L87.28 114.86L86.13 112.21L84.58 109.71L82.69 107.38L80.51 105.27L78.13 103.43L75.61 101.88L73.02 100.64L70.43 99.74L66.7 99.19L63.83 99.01L61.46 99.19L59.44 99.74L57.69 100.64L56.19 101.88L54.91 103.43L53.83 105.27L52.95 107.38L52.24 109.71L51.7 112.21L51.32 114.86L51.1 117.61L51.02 120.4L51.1 123.19L51.32 125.94L51.7 128.59L52.24 131.09L52.95 133.42L53.83 135.53L54.91 137.37L56.19 138.92L57.69 140.16L59.44 141.06L61.46 141.61L63.83 141.79L66.7 141.61L70.43 141.06L73.02 140.16L75.61 138.92L78.13 137.37L80.51 135.53L82.69 133.42L84.58 131.1L86.13 128.59L87.28 125.94L87.98 123.19Z" fill="#f5e725"/>
<path d="M87.34 120.4L87.12 117.79L86.48 115.23L85.43 112.76L84.02 110.42L82.29 108.25L80.3 106.28L78.11 104.56L75.78 103.11L73.39 101.96L70.99 101.12L67.6 100.61L64.85 100.44L62.61 100.61L60.69 101.12L59.02 101.96L57.59 103.11L56.36 104.56L55.33 106.28L54.48 108.25L53.8 110.42L53.28 112.76L52.91 115.23L52.69 117.79L52.62 120.4L52.69 123.01L52.91 125.57L53.28 128.04L53.8 130.38L54.48 132.55L55.33 134.52L56.36 136.24L57.59 137.69L59.02 138.84L60.69 139.68L62.61 140.19L64.85 140.36L67.6 140.19L70.99 139.68L73.39 138.84L75.78 137.69L78.11 136.24L80.3 134.52L82.29 132.55L84.02 130.38L85.43 128.04L86.48 125.57L87.12 123.01Z" fill="#f9fb15"/>
<path d="M86.46 120.4L86.26 117.98L85.68 115.6L84.73 113.31L83.44 111.13L81.87 109.11L80.05 107.29L78.05 105.69L75.92 104.35L73.72 103.27L71.51 102.49L68.46 102.02L65.84 101.86L63.72 102.02L61.9 102.49L60.33 103.27L58.97 104.35L57.8 105.69L56.82 107.29L56 109.11L55.35 111.13L54.85 113.31L54.5 115.6L54.29 117.98L54.22 120.4L54.29 122.82L54.5 125.2L54.85 127.49L55.35 129.67L56 131.69L56.82 133.51L57.8 135.11L58.97 136.45L60.33 137.53L61.9 138.31L63.72 138.78L65.84 138.94L68.46 138.78L71.51 138.31L73.72 137.53L75.92 136.45L78.05 135.11L80.05 133.51L81.87 131.69L83.44 129.67L84.73 127.49L85.68 125.2L86.26 122.82Z" fill="#f9fb15"/>
<path d="M85.57 120.4L85.39 118.17L84.87 115.97L84.01 113.85L82.85 111.84L81.43 109.98L79.78 108.3L77.97 106.82L76.03 105.58L74.02 104.59L71.99 103.87L69.29 103.43L66.79 103.29L64.79 103.43L63.09 103.87L61.61 104.59L60.33 105.58L59.23 106.82L58.29 108.3L57.52 109.98L56.89 111.84L56.42 113.85L56.08 115.97L55.88 118.17L55.81 120.4L55.88 122.63L56.08 124.83L56.42 126.95L56.89 128.96L57.52 130.82L58.29 132.5L59.23 133.98L60.33 135.22L61.61 136.21L63.09 136.93L64.79 137.37L66.79 137.51L69.29 137.37L71.99 136.93L74.02 136.21L76.03 135.22L77.97 133.98L79.78 132.5L81.43 130.82L82.85 128.96L84.01 126.95L84.87 124.83L85.39 122.63Z" fill="#f8f718"/>
<path d="M84.68 120.4L84.52 118.35L84.05 116.34L83.29 114.4L82.25 112.56L80.97 110.85L79.49 109.31L77.85 107.96L76.1 106.82L74.28 105.91L72.43 105.25L70.08 104.85L67.7 104.71L65.83 104.85L64.24 105.25L62.86 105.91L61.66 106.82L60.63 107.96L59.75 109.31L59.02 110.85L58.43 112.56L57.98 114.4L57.66 116.34L57.47 118.35L57.4 120.4L57.47 122.45L57.66 124.46L57.98 126.4L58.43 128.24L59.02 129.95L59.75 131.49L60.63 132.84L61.66 133.98L62.86 134.89L64.24 135.55L65.83 135.95L67.7 136.09L70.08 135.95L72.43 135.55L74.28 134.89L76.1 133.98L77.85 132.84L79.49 131.49L80.97 129.95L82.25 128.24L83.29 126.4L84.05 124.46L84.52 122.45Z" fill="#f6f020"/>
<path d="M83.79 120.4L83.65 118.54L83.23 116.71L82.55 114.94L81.63 113.27L80.49 111.72L79.17 110.32L77.71 109.09L76.14 108.05L74.5 107.23L72.83 106.63L70.84 106.26L68.56 106.14L66.84 106.26L65.37 106.63L64.09 107.23L62.97 108.05L62.01 109.09L61.19 110.32L60.51 111.72L59.96 113.27L59.53 114.94L59.23 116.71L59.05 118.54L58.99 120.4L59.05 122.26L59.23 124.09L59.53 125.86L59.96 127.53L60.51 129.08L61.19 130.48L62.01 131.71L62.97 132.75L64.09 133.57L65.37 134.17L66.84 134.54L68.56 134.66L70.84 134.54L72.83 134.17L74.5 133.57L76.14 132.75L77.71 131.71L79.17 130.48L80.49 129.08L81.63 127.53L82.55 125.86L83.23 124.09L83.65 122.26Z" fill="#f5e327"/>
<path d="M82.89 120.4L82.77 118.72L82.4 117.08L81.81 115.49L81 113.98L79.99 112.59L78.83 111.32L77.54 110.22L76.14 109.29L74.68 108.54L73.19 108L71.59 107.68L69.39 107.57L67.8 107.68L66.45 108L65.28 108.54L64.26 109.29L63.37 110.22L62.62 111.32L61.98 112.59L61.47 113.98L61.08 115.49L60.79 117.08L60.63 118.72L60.57 120.4L60.63 122.08L60.79 123.72L61.08 125.31L61.47 126.82L61.98 128.21L62.62 129.48L63.37 130.58L64.26 131.51L65.28 132.26L66.45 132.8L67.8 133.12L69.39 133.23L71.59 133.12L73.19 132.8L74.68 132.26L76.14 131.51L77.54 130.58L78.83 129.48L79.99 128.21L81 126.82L81.81 125.31L82.4 123.72L82.77 122.08Z" fill="#fcd130"/>
<path d="M81.99 120.4L81.88 118.91L81.56 117.45L81.05 116.03L80.34 114.7L79.47 113.46L78.46 112.33L77.33 111.35L76.11 110.52L74.82 109.86L73.5 109.38L72.18 109.09L70.17 108.99L68.73 109.09L67.51 109.38L66.44 109.86L65.52 110.52L64.71 111.35L64.02 112.33L63.44 113.46L62.97 114.7L62.61 116.03L62.35 117.45L62.2 118.91L62.15 120.4L62.2 121.89L62.35 123.35L62.61 124.77L62.97 126.1L63.44 127.34L64.02 128.47L64.71 129.45L65.52 130.28L66.44 130.94L67.51 131.42L68.73 131.71L70.17 131.81L72.18 131.71L73.5 131.42L74.82 130.94L76.11 130.28L77.33 129.45L78.46 128.47L79.47 127.34L80.34 126.1L81.05 124.77L81.56 123.35L81.88 121.89Z" fill="#fabb3d"/>
<path d="M81.07 120.4L80.98 119.1L80.71 117.82L80.25 116.58L79.64 115.41L78.88 114.32L77.99 113.34L77 112.48L75.93 111.76L74.81 111.18L73.66 110.76L72.5 110.5L70.74 110.42L69.48 110.5L68.41 110.76L67.48 111.18L66.67 111.76L65.96 112.48L65.36 113.34L64.85 114.32L64.44 115.41L64.12 116.58L63.89 117.82L63.76 119.1L63.71 120.4L63.76 121.7L63.89 122.98L64.12 124.22L64.44 125.39L64.85 126.48L65.36 127.46L65.96 128.32L66.67 129.04L67.48 129.62L68.41 130.04L69.48 130.3L70.74 130.38L72.5 130.3L73.66 130.04L74.81 129.62L75.93 129.04L77 128.32L77.99 127.46L78.88 126.48L79.64 125.39L80.25 124.22L80.71 122.98L80.98 121.7Z" fill="#c9c129"/>
<path d="M80.15 120.4L80.07 119.28L79.83 118.19L79.45 117.13L78.92 116.12L78.27 115.19L77.51 114.35L76.66 113.61L75.74 112.99L74.78 112.5L73.79 112.14L72.8 111.92L71.29 111.84L70.21 111.92L69.29 112.14L68.5 112.5L67.8 112.99L67.19 113.61L66.68 114.35L66.24 115.19L65.89 116.12L65.62 117.13L65.43 118.19L65.31 119.28L65.27 120.4L65.31 121.52L65.43 122.61L65.62 123.67L65.89 124.68L66.24 125.61L66.68 126.45L67.19 127.19L67.8 127.81L68.5 128.3L69.29 128.66L70.21 128.88L71.29 128.96L72.8 128.88L73.79 128.66L74.78 128.3L75.74 127.81L76.66 127.19L77.51 126.45L78.27 125.61L78.92 124.68L79.45 123.67L79.83 122.61L80.07 121.52Z" fill="#7acc5e"/>
<path d="M79.21 120.4L79.14 119.47L78.95 118.55L78.62 117.67L78.18 116.84L77.64 116.06L77.01 115.36L76.3 114.74L75.54 114.23L74.73 113.81L73.91 113.51L73.08 113.33L71.83 113.27L70.93 113.33L70.16 113.51L69.5 113.81L68.92 114.23L68.41 114.74L67.98 115.36L67.62 116.06L67.33 116.84L67.1 117.67L66.94 118.55L66.84 119.47L66.81 120.4L66.84 121.33L66.94 122.25L67.1 123.13L67.33 123.97L67.62 124.74L67.98 125.44L68.41 126.06L68.92 126.57L69.5 126.99L70.16 127.29L70.93 127.47L71.83 127.53L73.08 127.47L73.91 127.29L74.73 126.99L75.54 126.57L76.3 126.06L77.01 125.44L77.64 124.74L78.18 123.97L78.62 123.13L78.95 122.25L79.14 121.33Z" fill="#32c69e"/>
<path d="M78.25 120.4L78.19 119.66L78.04 118.92L77.78 118.22L77.43 117.55L76.99 116.93L76.48 116.37L75.92 115.87L75.31 115.46L74.67 115.13L74.01 114.89L73.35 114.74L72.34 114.7L71.62 114.74L71.01 114.89L70.48 115.13L70.01 115.46L69.61 115.87L69.26 116.37L68.98 116.93L68.74 117.55L68.56 118.22L68.43 118.92L68.35 119.66L68.33 120.4L68.35 121.14L68.43 121.88L68.56 122.58L68.74 123.25L68.98 123.87L69.26 124.43L69.61 124.93L70.01 125.34L70.48 125.67L71.01 125.91L71.62 126.06L72.34 126.1L73.35 126.06L74.01 125.91L74.67 125.67L75.31 125.34L75.92 124.93L76.48 124.43L76.99 123.87L77.43 123.25L77.78 122.58L78.04 121.88L78.19 121.14Z" fill="#02b7cb"/>
<path d="M77.25 120.4L77.21 119.84L77.09 119.29L76.9 118.76L76.63 118.26L76.31 117.8L75.93 117.37L75.5 117.01L75.05 116.7L74.56 116.45L74.07 116.27L73.57 116.16L72.82 116.12L72.28 116.16L71.82 116.27L71.42 116.45L71.07 116.7L70.77 117.01L70.51 117.37L70.3 117.8L70.12 118.26L69.98 118.76L69.89 119.29L69.83 119.84L69.81 120.4L69.83 120.96L69.89 121.51L69.98 122.04L70.12 122.54L70.3 123L70.51 123.43L70.77 123.79L71.07 124.1L71.42 124.35L71.82 124.53L72.28 124.64L72.82 124.68L73.57 124.64L74.07 124.53L74.56 124.35L75.05 124.1L75.5 123.79L75.93 123.43L76.31 123L76.63 122.54L76.9 122.04L77.09 121.51L77.21 120.96Z" fill="#22a1e4"/>
<path d="M76.21 120.4L76.18 120.03L76.1 119.66L75.97 119.31L75.8 118.97L75.58 118.66L75.32 118.38L75.04 118.14L74.74 117.93L74.42 117.77L74.09 117.65L73.76 117.57L73.25 117.55L72.89 117.57L72.59 117.65L72.32 117.77L72.09 117.93L71.89 118.14L71.71 118.38L71.57 118.66L71.45 118.97L71.36 119.31L71.3 119.66L71.26 120.03L71.25 120.4L71.26 120.77L71.3 121.14L71.36 121.49L71.45 121.83L71.57 122.14L71.71 122.42L71.89 122.66L72.09 122.87L72.32 123.03L72.59 123.15L72.89 123.23L73.25 123.25L73.76 123.23L74.09 123.15L74.42 123.03L74.74 122.87L75.04 122.66L75.32 122.42L75.58 122.14L75.8 121.83L75.97 121.49L76.1 121.14L76.18 120.77Z" fill="#2d8cf3"/>
<path d="M75.09 120.4L75.08 120.21L75.04 120.03L74.98 119.85L74.89 119.69L74.78 119.53L74.65 119.39L74.51 119.27L74.36 119.17L74.2 119.08L74.03 119.02L73.87 118.99L73.62 118.97L73.44 118.99L73.29 119.02L73.15 119.08L73.04 119.17L72.94 119.27L72.85 119.39L72.78 119.53L72.72 119.69L72.67 119.85L72.64 120.03L72.62 120.21L72.61 120.4L72.62 120.59L72.64 120.77L72.67 120.95L72.72 121.11L72.78 121.27L72.85 121.41L72.94 121.53L73.04 121.63L73.15 121.72L73.29 121.78L73.44 121.81L73.62 121.83L73.87 121.81L74.03 121.78L74.2 121.72L74.36 121.63L74.51 121.53L74.65 121.41L74.78 121.27L74.89 121.11L74.98 120.95L75.04 120.77L75.08 120.59Z" fill="#307ffb"/>
</g>
<path d="M89.07 120.4L88.81 117.43L88.04 114.51L86.79 111.69L85.11 109.02L83.05 106.54L80.7 104.3L78.13 102.34L75.41 100.68L72.63 99.36L69.86 98.41L65.8 97.82L62.8 97.63L60.33 97.82L58.21 98.41L56.38 99.36L54.81 100.68L53.48 102.34L52.37 104.3L51.45 106.54L50.72 109.02L50.17 111.69L49.78 114.51L49.55 117.43L49.47 120.4L49.55 123.37L49.78 126.29L50.17 129.11L50.72 131.78L51.45 134.26L52.37 136.5L53.48 138.46L54.81 140.12L56.38 141.44L58.21 142.39L60.33 142.98L62.8 143.17L65.8 142.98L69.86 142.39L72.63 141.44L75.41 140.12L78.13 138.46L80.7 136.5L83.05 134.26L85.11 131.79L86.79 129.11L88.04 126.29L88.81 123.37Z" fill="none" stroke="#000" stroke-opacity="0.72" stroke-width="2.0" stroke-dasharray="1.5 0.7"/>
<path d="M88.08 120.4L87.84 117.64L87.15 114.92L86.02 112.3L84.49 109.82L82.62 107.52L80.48 105.44L78.13 103.61L75.64 102.07L73.08 100.85L70.52 99.96L66.85 99.42L64 99.24L61.65 99.42L59.64 99.96L57.91 100.85L56.42 102.07L55.14 103.61L54.07 105.44L53.19 107.52L52.49 109.82L51.95 112.3L51.58 114.92L51.35 117.64L51.28 120.4L51.35 123.16L51.58 125.88L51.95 128.5L52.49 130.98L53.19 133.28L54.07 135.36L55.14 137.19L56.42 138.73L57.91 139.95L59.64 140.84L61.65 141.38L64 141.56L66.85 141.38L70.52 140.84L73.08 139.95L75.64 138.73L78.13 137.19L80.48 135.36L82.62 133.28L84.49 130.98L86.02 128.5L87.15 125.88L87.84 123.16Z" fill="none" stroke="#300" stroke-opacity="0.45" stroke-width="1.0"/>
<path d="M90.5 120.4C90.5 118.5 90.22 116.5 89.6 114.7C88.98 112.9 88.02 111.35 86.8 109.6C85.58 107.85 84.02 105.92 82.3 104.2C80.58 102.48 78.63 100.73 76.5 99.3C74.37 97.87 71.83 96.62 69.5 95.6C67.17 94.58 64.75 93.7 62.5 93.2C60.25 92.7 58.08 92.47 56 92.6C53.92 92.73 51.73 93.17 50 94C48.27 94.83 46.77 96.1 45.6 97.6C44.43 99.1 43.62 101.13 43 103C42.38 104.87 42.12 106.88 41.9 108.8C41.68 110.72 41.73 112.57 41.7 114.5C41.67 116.43 41.7 118.43 41.7 120.4C41.7 122.37 41.67 124.37 41.7 126.3C41.73 128.23 41.68 130.08 41.9 132C42.12 133.92 42.38 135.93 43 137.8C43.62 139.67 44.43 141.7 45.6 143.2C46.77 144.7 48.27 145.97 50 146.8C51.73 147.63 53.92 148.07 56 148.2C58.08 148.33 60.25 148.1 62.5 147.6C64.75 147.1 67.17 146.22 69.5 145.2C71.83 144.18 74.37 142.93 76.5 141.5C78.63 140.07 80.58 138.32 82.3 136.6C84.02 134.88 85.58 132.95 86.8 131.2C88.02 129.45 88.98 127.9 89.6 126.1C90.22 124.3 90.5 122.3 90.5 120.4Z" fill="none" stroke="#f6f2fb" stroke-width="1.0"/>
<path d="M90.5 120.4C90.5 118.5 90.22 116.5 89.6 114.7C88.98 112.9 88.02 111.35 86.8 109.6C85.58 107.85 84.02 105.92 82.3 104.2C80.58 102.48 78.63 100.73 76.5 99.3C74.37 97.87 71.83 96.62 69.5 95.6C67.17 94.58 64.75 93.7 62.5 93.2C60.25 92.7 58.08 92.47 56 92.6C53.92 92.73 51.73 93.17 50 94C48.27 94.83 46.77 96.1 45.6 97.6C44.43 99.1 43.62 101.13 43 103C42.38 104.87 42.12 106.88 41.9 108.8C41.68 110.72 41.73 112.57 41.7 114.5C41.67 116.43 41.7 118.43 41.7 120.4C41.7 122.37 41.67 124.37 41.7 126.3C41.73 128.23 41.68 130.08 41.9 132C42.12 133.92 42.38 135.93 43 137.8C43.62 139.67 44.43 141.7 45.6 143.2C46.77 144.7 48.27 145.97 50 146.8C51.73 147.63 53.92 148.07 56 148.2C58.08 148.33 60.25 148.1 62.5 147.6C64.75 147.1 67.17 146.22 69.5 145.2C71.83 144.18 74.37 142.93 76.5 141.5C78.63 140.07 80.58 138.32 82.3 136.6C84.02 134.88 85.58 132.95 86.8 131.2C88.02 129.45 88.98 127.9 89.6 126.1C90.22 124.3 90.5 122.3 90.5 120.4Z" fill="none" stroke="#ff2020" stroke-opacity="0.3" stroke-width="0.8"/>
<path d="M19.4 57.9V182.9H117.6" fill="none" stroke="#9a9a9a" stroke-width="0.6"/>
<path d="M19.4 57.9H117.6V182.9" fill="none" stroke="#9a9a9a" stroke-width="0.5" stroke-opacity="0.6"/>
<path d="M19.4 182.9v-1.2M19.4 57.9v1.2M60.32 182.9v-1.2M60.32 57.9v1.2M101.23 182.9v-1.2M101.23 57.9v1.2M19.4 182.9h1.2M117.6 182.9h-1.2M19.4 167.28h1.2M117.6 167.28h-1.2M19.4 151.65h1.2M117.6 151.65h-1.2M19.4 136.03h1.2M117.6 136.03h-1.2M19.4 120.4h1.2M117.6 120.4h-1.2M19.4 104.78h1.2M117.6 104.78h-1.2M19.4 89.15h1.2M117.6 89.15h-1.2M19.4 73.52h1.2M117.6 73.52h-1.2M19.4 57.9h1.2M117.6 57.9h-1.2" fill="none" stroke="#9a9a9a" stroke-width="0.5"/>
<g font-size="5.8" fill="#2a2a2a">
<text x="19.4" y="190.9" text-anchor="middle">0</text>
<text x="60.32" y="190.9" text-anchor="middle">0.5</text>
<text x="101.23" y="190.9" text-anchor="middle">1</text>
<text x="17.9" y="60.2" text-anchor="end">0.8</text>
<text x="17.9" y="75.82" text-anchor="end">0.6</text>
<text x="17.9" y="91.45" text-anchor="end">0.4</text>
<text x="17.9" y="107.08" text-anchor="end">0.2</text>
<text x="17.9" y="122.7" text-anchor="end">0</text>
<text x="17.9" y="138.33" text-anchor="end">-0.2</text>
<text x="17.9" y="153.95" text-anchor="end">-0.4</text>
<text x="17.9" y="169.58" text-anchor="end">-0.6</text>
<text x="17.9" y="185.2" text-anchor="end">-0.8</text>
</g>
<text x="69" y="199.5" font-size="6.5" text-anchor="middle" fill="#2a2a2a">R (m)</text>
<text transform="translate(5.4 120.5) rotate(-90)" font-size="6.5" text-anchor="middle" fill="#2a2a2a">Z (m)</text>
<text x="68.8" y="54.7" font-size="6.35" font-weight="bold" text-anchor="middle" fill="#111">SXR emissivity (0.1 - 1 keV)</text>
<rect x="120.9" y="57.9" width="5.9" height="125" fill="url(#pg)" stroke="#9a9a9a" stroke-width="0.4"/>
<g font-size="5.2" fill="#2a2a2a">
<path d="M126.8 182.9h-1" stroke="#9a9a9a" stroke-width="0.4"/>
<text x="128.9" y="185.2">0</text>
<path d="M126.8 168.28h-1" stroke="#9a9a9a" stroke-width="0.4"/>
<text x="128.9" y="170.58">10</text>
<path d="M126.8 153.66h-1" stroke="#9a9a9a" stroke-width="0.4"/>
<text x="128.9" y="155.96">20</text>
<path d="M126.8 139.04h-1" stroke="#9a9a9a" stroke-width="0.4"/>
<text x="128.9" y="141.34">30</text>
<path d="M126.8 124.42h-1" stroke="#9a9a9a" stroke-width="0.4"/>
<text x="128.9" y="126.72">40</text>
<path d="M126.8 109.8h-1" stroke="#9a9a9a" stroke-width="0.4"/>
<text x="128.9" y="112.1">50</text>
<path d="M126.8 95.18h-1" stroke="#9a9a9a" stroke-width="0.4"/>
<text x="128.9" y="97.48">60</text>
<path d="M126.8 80.56h-1" stroke="#9a9a9a" stroke-width="0.4"/>
<text x="128.9" y="82.86">70</text>
<path d="M126.8 65.94h-1" stroke="#9a9a9a" stroke-width="0.4"/>
<text x="128.9" y="68.24">80</text>
</g>
<text transform="translate(144.2 119.8) rotate(-90)" font-size="5.45" text-anchor="middle" fill="#2a2a2a">SXR emissivity (kW.m<tspan font-size="3.6" dy="-2.2">-3</tspan><tspan dy="2.2">)</tspan></text>
</g>
<g transform="translate(149 0)">
<rect x="19.4" y="57.9" width="98.2" height="125" fill="#fff" stroke="none"/>
<rect x="39.86" y="73.62" width="57.28" height="94" fill="#3e26a8" stroke="#000" stroke-width="1.1"/>
<path d="M85.97 120.4L85.78 118L85.2 115.64L84.26 113.36L82.99 111.2L81.43 109.2L79.63 107.39L77.65 105.8L75.54 104.47L73.35 103.4L71.15 102.63L68.15 102.16L65.53 102L63.42 102.16L61.62 102.63L60.05 103.4L58.7 104.47L57.54 105.8L56.56 107.39L55.75 109.2L55.1 111.2L54.6 113.36L54.25 115.64L54.04 118L53.97 120.4L54.04 122.8L54.25 125.16L54.6 127.44L55.1 129.6L55.75 131.6L56.56 133.41L57.54 135L58.7 136.33L60.05 137.4L61.62 138.17L63.42 138.64L65.53 138.8L68.15 138.64L71.15 138.17L73.35 137.4L75.54 136.33L77.65 135L79.63 133.41L81.43 131.6L82.99 129.6L84.26 127.44L85.2 125.16L85.78 122.8Z" fill="#3f28ae"/>
<path d="M85.69 120.4L85.5 118.06L84.94 115.76L84.03 113.53L82.8 111.43L81.29 109.48L79.54 107.71L77.62 106.17L75.57 104.86L73.45 103.83L71.31 103.07L68.42 102.61L65.84 102.46L63.77 102.61L62 103.07L60.47 103.83L59.14 104.86L58 106.17L57.04 107.71L56.24 109.48L55.6 111.43L55.11 113.53L54.76 115.76L54.55 118.06L54.49 120.4L54.55 122.74L54.76 125.04L55.11 127.27L55.6 129.37L56.24 131.32L57.04 133.09L58 134.63L59.14 135.94L60.47 136.97L62 137.73L63.77 138.19L65.84 138.34L68.42 138.19L71.31 137.73L73.45 136.97L75.57 135.94L77.62 134.63L79.54 133.09L81.29 131.32L82.8 129.37L84.03 127.27L84.94 125.04L85.5 122.74Z" fill="#3f28ae"/>
<path d="M85.4 120.4L85.22 118.12L84.68 115.88L83.8 113.71L82.61 111.66L81.14 109.76L79.46 108.04L77.59 106.53L75.61 105.26L73.55 104.25L71.47 103.52L68.68 103.07L66.15 102.92L64.12 103.07L62.39 103.52L60.88 104.25L59.58 105.26L58.46 106.53L57.51 108.04L56.73 109.76L56.1 111.66L55.61 113.71L55.27 115.88L55.07 118.12L55 120.4L55.07 122.68L55.27 124.92L55.61 127.09L56.1 129.14L56.73 131.04L57.51 132.76L58.46 134.27L59.58 135.54L60.88 136.55L62.39 137.28L64.12 137.73L66.15 137.88L68.68 137.73L71.47 137.28L73.55 136.55L75.61 135.54L77.59 134.27L79.46 132.76L81.14 131.04L82.61 129.14L83.8 127.09L84.68 124.92L85.22 122.68Z" fill="#3f28af"/>
<path d="M85.11 120.4L84.94 118.18L84.42 115.99L83.57 113.89L82.41 111.89L81 110.04L79.37 108.37L77.56 106.9L75.64 105.66L73.64 104.68L71.62 103.96L68.94 103.53L66.45 103.38L64.46 103.53L62.76 103.96L61.29 104.68L60.01 105.66L58.92 106.9L57.99 108.37L57.21 110.04L56.59 111.89L56.12 113.89L55.78 115.99L55.58 118.18L55.51 120.4L55.58 122.62L55.78 124.81L56.12 126.91L56.59 128.91L57.21 130.76L57.99 132.43L58.92 133.9L60.01 135.14L61.29 136.12L62.76 136.84L64.46 137.27L66.45 137.42L68.94 137.27L71.62 136.84L73.64 136.12L75.64 135.14L77.56 133.9L79.37 132.43L81 130.76L82.41 128.91L83.57 126.91L84.42 124.81L84.94 122.62Z" fill="#3f28af"/>
<path d="M84.83 120.4L84.66 118.24L84.15 116.11L83.33 114.06L82.22 112.12L80.85 110.32L79.27 108.69L77.53 107.26L75.66 106.06L73.72 105.1L71.76 104.4L69.2 103.98L66.74 103.84L64.8 103.98L63.14 104.4L61.7 105.1L60.45 106.06L59.37 107.26L58.46 108.69L57.7 110.32L57.09 112.12L56.62 114.06L56.29 116.11L56.09 118.24L56.03 120.4L56.09 122.56L56.29 124.69L56.62 126.74L57.09 128.68L57.7 130.48L58.46 132.11L59.37 133.54L60.45 134.74L61.7 135.7L63.14 136.4L64.8 136.82L66.74 136.96L69.2 136.82L71.76 136.4L73.72 135.7L75.66 134.74L77.53 133.54L79.27 132.11L80.85 130.48L82.22 128.68L83.33 126.74L84.15 124.69L84.66 122.56Z" fill="#3f29b0"/>
<path d="M84.54 120.4L84.38 118.3L83.89 116.23L83.1 114.24L82.03 112.35L80.71 110.6L79.18 109.02L77.49 107.63L75.68 106.46L73.81 105.53L71.9 104.85L69.45 104.44L67.04 104.3L65.14 104.44L63.51 104.85L62.1 105.53L60.88 106.46L59.82 107.63L58.93 109.02L58.18 110.6L57.58 112.35L57.12 114.24L56.8 116.23L56.6 118.3L56.54 120.4L56.6 122.5L56.8 124.57L57.12 126.56L57.58 128.45L58.18 130.2L58.93 131.78L59.82 133.17L60.88 134.34L62.1 135.27L63.51 135.95L65.14 136.36L67.04 136.5L69.45 136.36L71.9 135.95L73.81 135.27L75.68 134.34L77.49 133.17L79.18 131.78L80.71 130.2L82.03 128.45L83.1 126.56L83.89 124.57L84.38 122.5Z" fill="#3f29b1"/>
<path d="M84.25 120.4L84.1 118.36L83.63 116.35L82.86 114.41L81.83 112.58L80.56 110.88L79.08 109.34L77.45 107.99L75.7 106.86L73.89 105.95L72.04 105.29L69.7 104.89L67.33 104.76L65.47 104.89L63.88 105.29L62.5 105.95L61.3 106.86L60.27 107.99L59.4 109.34L58.67 110.88L58.08 112.58L57.63 114.41L57.31 116.35L57.12 118.36L57.05 120.4L57.12 122.44L57.31 124.45L57.63 126.39L58.08 128.22L58.67 129.92L59.4 131.46L60.27 132.81L61.3 133.94L62.5 134.85L63.88 135.51L65.47 135.91L67.33 136.04L69.7 135.91L72.04 135.51L73.89 134.85L75.7 133.94L77.45 132.81L79.08 131.46L80.56 129.92L81.83 128.22L82.86 126.39L83.63 124.45L84.1 122.44Z" fill="#3f29b1"/>
<path d="M83.97 120.4L83.81 118.42L83.36 116.47L82.63 114.59L81.63 112.81L80.4 111.16L78.98 109.67L77.41 108.36L75.72 107.25L73.96 106.38L72.17 105.74L69.95 105.35L67.61 105.22L65.79 105.35L64.25 105.74L62.9 106.38L61.73 107.25L60.72 108.36L59.86 109.67L59.15 111.16L58.57 112.81L58.13 114.59L57.81 116.47L57.63 118.42L57.57 120.4L57.63 122.38L57.81 124.33L58.13 126.21L58.57 127.99L59.15 129.64L59.86 131.13L60.72 132.44L61.73 133.55L62.9 134.42L64.25 135.06L65.79 135.45L67.61 135.58L69.95 135.45L72.17 135.06L73.96 134.42L75.72 133.55L77.41 132.44L78.98 131.13L80.4 129.64L81.63 127.99L82.63 126.21L83.36 124.33L83.81 122.38Z" fill="#3f29b2"/>
<path d="M83.68 120.4L83.53 118.48L83.1 116.59L82.39 114.77L81.43 113.04L80.25 111.44L78.88 109.99L77.36 108.72L75.73 107.65L74.03 106.8L72.3 106.18L70.2 105.81L67.89 105.68L66.12 105.81L64.61 106.18L63.29 106.8L62.15 107.65L61.17 108.72L60.33 109.99L59.63 111.44L59.06 113.04L58.63 114.77L58.32 116.59L58.14 118.48L58.08 120.4L58.14 122.32L58.32 124.21L58.63 126.03L59.06 127.76L59.63 129.36L60.33 130.81L61.17 132.08L62.15 133.15L63.29 134L64.61 134.62L66.12 134.99L67.89 135.12L70.2 134.99L72.3 134.62L74.03 134L75.73 133.15L77.36 132.08L78.88 130.81L80.25 129.36L81.43 127.76L82.39 126.03L83.1 124.21L83.53 122.32Z" fill="#402ab3"/>
<path d="M83.39 120.4L83.25 118.54L82.83 116.71L82.15 114.94L81.23 113.27L80.09 111.72L78.77 110.32L77.31 109.09L75.74 108.05L74.1 107.23L72.43 106.63L70.44 106.26L68.16 106.14L66.44 106.26L64.97 106.63L63.69 107.23L62.57 108.05L61.61 109.09L60.79 110.32L60.11 111.72L59.56 113.27L59.13 114.94L58.83 116.71L58.65 118.54L58.59 120.4L58.65 122.26L58.83 124.09L59.13 125.86L59.56 127.53L60.11 129.08L60.79 130.48L61.61 131.71L62.57 132.75L63.69 133.57L64.97 134.17L66.44 134.54L68.16 134.66L70.44 134.54L72.43 134.17L74.1 133.57L75.74 132.75L77.31 131.71L78.77 130.48L80.09 129.08L81.23 127.53L82.15 125.86L82.83 124.09L83.25 122.26Z" fill="#402ab4"/>
<path d="M83.1 120.4L82.97 118.6L82.57 116.83L81.91 115.12L81.03 113.5L79.94 112L78.67 110.64L77.26 109.45L75.74 108.45L74.16 107.65L72.55 107.07L70.68 106.72L68.43 106.6L66.75 106.72L65.32 107.07L64.08 107.65L62.99 108.45L62.05 109.45L61.25 110.64L60.59 112L60.05 113.5L59.63 115.12L59.33 116.83L59.16 118.6L59.1 120.4L59.16 122.2L59.33 123.97L59.63 125.68L60.05 127.3L60.59 128.8L61.25 130.16L62.05 131.35L62.99 132.35L64.08 133.15L65.32 133.73L66.75 134.08L68.43 134.2L70.68 134.08L72.55 133.73L74.16 133.15L75.74 132.35L77.26 131.35L78.67 130.16L79.94 128.8L81.03 127.3L81.91 125.68L82.57 123.97L82.97 122.2Z" fill="#402ab5"/>
<path d="M82.81 120.4L82.68 118.66L82.3 116.95L81.67 115.3L80.82 113.73L79.77 112.28L78.56 110.97L77.2 109.82L75.74 108.85L74.22 108.08L72.66 107.51L70.92 107.17L68.7 107.06L67.06 107.17L65.67 107.51L64.46 108.08L63.41 108.85L62.49 109.82L61.71 110.97L61.06 112.28L60.53 113.73L60.13 115.3L59.84 116.95L59.67 118.66L59.61 120.4L59.67 122.14L59.84 123.85L60.13 125.5L60.53 127.07L61.06 128.52L61.71 129.83L62.49 130.98L63.41 131.95L64.46 132.72L65.67 133.29L67.06 133.63L68.7 133.74L70.92 133.63L72.66 133.29L74.22 132.72L75.74 131.95L77.2 130.98L78.56 129.83L79.77 128.52L80.82 127.07L81.67 125.5L82.3 123.85L82.68 122.14Z" fill="#402bb6"/>
<path d="M82.52 120.4L82.4 118.72L82.03 117.07L81.43 115.47L80.62 113.96L79.61 112.56L78.44 111.29L77.14 110.18L75.74 109.25L74.27 108.5L72.78 107.96L71.17 107.63L68.96 107.52L67.37 107.63L66.02 107.96L64.84 108.5L63.82 109.25L62.93 110.18L62.17 111.29L61.54 112.56L61.02 113.96L60.63 115.47L60.34 117.07L60.18 118.72L60.12 120.4L60.18 122.08L60.34 123.73L60.63 125.33L61.02 126.84L61.54 128.24L62.17 129.51L62.93 130.62L63.82 131.55L64.84 132.3L66.02 132.84L67.37 133.17L68.96 133.28L71.17 133.17L72.78 132.84L74.27 132.3L75.74 131.55L77.14 130.62L78.44 129.51L79.61 128.24L80.62 126.84L81.43 125.33L82.03 123.73L82.4 122.08Z" fill="#402bb8"/>
<path d="M82.23 120.4L82.11 118.78L81.76 117.19L81.19 115.65L80.41 114.19L79.45 112.84L78.33 111.62L77.08 110.55L75.73 109.64L74.33 108.93L72.88 108.4L71.44 108.09L69.22 107.98L67.67 108.09L66.36 108.4L65.22 108.93L64.23 109.64L63.36 110.55L62.63 111.62L62.01 112.84L61.51 114.19L61.12 115.65L60.85 117.19L60.68 118.78L60.63 120.4L60.68 122.02L60.85 123.61L61.12 125.15L61.51 126.61L62.01 127.96L62.63 129.18L63.36 130.25L64.23 131.16L65.22 131.87L66.36 132.4L67.67 132.71L69.22 132.82L71.44 132.71L72.88 132.4L74.33 131.87L75.73 131.16L77.08 130.25L78.33 129.18L79.45 127.96L80.41 126.61L81.19 125.15L81.76 123.61L82.11 122.02Z" fill="#412cba"/>
<path d="M81.94 120.4L81.83 118.84L81.49 117.3L80.94 115.82L80.2 114.42L79.28 113.12L78.21 111.94L77.01 110.91L75.72 110.04L74.37 109.35L72.99 108.85L71.6 108.54L69.47 108.44L67.97 108.54L66.7 108.85L65.6 109.35L64.63 110.04L63.79 110.91L63.08 111.94L62.48 113.12L61.99 114.42L61.62 115.82L61.35 117.3L61.19 118.84L61.14 120.4L61.19 121.96L61.35 123.5L61.62 124.98L61.99 126.38L62.48 127.68L63.08 128.86L63.79 129.89L64.63 130.76L65.6 131.45L66.7 131.95L67.97 132.26L69.47 132.36L71.6 132.26L72.99 131.95L74.37 131.45L75.72 130.76L77.01 129.89L78.21 128.86L79.28 127.68L80.2 126.38L80.94 124.98L81.49 123.5L81.83 121.96Z" fill="#412dbc"/>
<path d="M81.65 120.4L81.54 118.9L81.22 117.42L80.7 116L79.99 114.65L79.11 113.4L78.08 112.27L76.94 111.28L75.71 110.44L74.41 109.78L73.09 109.29L71.75 109L69.72 108.9L68.27 109L67.04 109.29L65.97 109.78L65.04 110.44L64.22 111.28L63.53 112.27L62.95 113.4L62.48 114.65L62.11 116L61.85 117.42L61.7 118.9L61.65 120.4L61.7 121.9L61.85 123.38L62.11 124.8L62.48 126.15L62.95 127.4L63.53 128.53L64.22 129.52L65.04 130.36L65.97 131.02L67.04 131.51L68.27 131.8L69.72 131.9L71.75 131.8L73.09 131.51L74.41 131.02L75.71 130.36L76.94 129.52L78.08 128.53L79.11 127.4L79.99 126.15L80.7 124.8L81.22 123.38L81.54 121.9Z" fill="#422fc0"/>
<path d="M81.35 120.4L81.25 118.96L80.94 117.54L80.44 116.18L79.76 114.88L78.92 113.68L77.94 112.59L76.85 111.64L75.66 110.84L74.42 110.2L73.15 109.74L71.87 109.45L69.92 109.36L68.52 109.45L67.34 109.74L66.31 110.2L65.42 110.84L64.64 111.64L63.97 112.59L63.41 113.68L62.95 114.88L62.6 116.18L62.35 117.54L62.2 118.96L62.15 120.4L62.2 121.84L62.35 123.26L62.6 124.62L62.95 125.92L63.41 127.12L63.97 128.21L64.64 129.16L65.42 129.96L66.31 130.6L67.34 131.06L68.52 131.35L69.92 131.44L71.87 131.35L73.15 131.06L74.42 130.6L75.66 129.96L76.85 129.16L77.94 128.21L78.92 127.12L79.76 125.92L80.44 124.62L80.94 123.26L81.25 121.84Z" fill="#4330c5"/>
<path d="M81.06 120.4L80.96 119.02L80.67 117.66L80.19 116.35L79.54 115.11L78.73 113.96L77.79 112.92L76.74 112.01L75.61 111.24L74.42 110.63L73.2 110.18L71.97 109.91L70.1 109.82L68.77 109.91L67.63 110.18L66.65 110.63L65.79 111.24L65.04 112.01L64.4 112.92L63.86 113.96L63.43 115.11L63.09 116.35L62.85 117.66L62.71 119.02L62.66 120.4L62.71 121.78L62.85 123.14L63.09 124.45L63.43 125.69L63.86 126.84L64.4 127.88L65.04 128.79L65.79 129.56L66.65 130.17L67.63 130.62L68.77 130.89L70.1 130.98L71.97 130.89L73.2 130.62L74.42 130.17L75.61 129.56L76.74 128.79L77.79 127.88L78.73 126.84L79.54 125.69L80.19 124.45L80.67 123.14L80.96 121.78Z" fill="#4433cc"/>
<path d="M80.76 120.4L80.67 119.08L80.39 117.78L79.93 116.53L79.31 115.34L78.54 114.24L77.64 113.24L76.63 112.37L75.55 111.64L74.41 111.05L73.24 110.62L72.07 110.37L70.28 110.28L69 110.37L67.92 110.62L66.98 111.05L66.15 111.64L65.44 112.37L64.83 113.24L64.31 114.24L63.9 115.34L63.57 116.53L63.35 117.78L63.21 119.08L63.16 120.4L63.21 121.72L63.35 123.02L63.57 124.27L63.9 125.46L64.31 126.56L64.83 127.56L65.44 128.43L66.15 129.16L66.98 129.75L67.92 130.18L69 130.43L70.28 130.52L72.07 130.43L73.24 130.18L74.41 129.75L75.55 129.16L76.63 128.43L77.64 127.56L78.54 126.56L79.31 125.46L79.93 124.27L80.39 123.02L80.67 121.72Z" fill="#4537d5"/>
<path d="M80.47 120.4L80.38 119.14L80.11 117.9L79.67 116.7L79.08 115.57L78.34 114.52L77.48 113.57L76.52 112.74L75.49 112.03L74.4 111.48L73.29 111.07L72.17 110.82L70.46 110.74L69.24 110.82L68.21 111.07L67.31 111.48L66.52 112.03L65.84 112.74L65.25 113.57L64.76 114.52L64.37 115.57L64.06 116.7L63.84 117.9L63.71 119.14L63.67 120.4L63.71 121.66L63.84 122.9L64.06 124.1L64.37 125.23L64.76 126.28L65.25 127.23L65.84 128.06L66.52 128.77L67.31 129.32L68.21 129.73L69.24 129.98L70.46 130.06L72.17 129.98L73.29 129.73L74.4 129.32L75.49 128.77L76.52 128.06L77.48 127.23L78.34 126.28L79.08 125.23L79.67 124.1L80.11 122.9L80.38 121.66Z" fill="#463cdf"/>
<path d="M80.17 120.4L80.08 119.2L79.83 118.02L79.41 116.88L78.85 115.8L78.14 114.8L77.33 113.89L76.41 113.1L75.43 112.43L74.39 111.9L73.33 111.51L72.27 111.28L70.64 111.2L69.48 111.28L68.5 111.51L67.64 111.9L66.89 112.43L66.24 113.1L65.68 113.89L65.22 114.8L64.84 115.8L64.54 116.88L64.34 118.02L64.21 119.2L64.17 120.4L64.21 121.6L64.34 122.78L64.54 123.92L64.84 125L65.22 126L65.68 126.91L66.24 127.7L66.89 128.37L67.64 128.9L68.5 129.29L69.48 129.52L70.64 129.6L72.27 129.52L73.33 129.29L74.39 128.9L75.43 128.37L76.41 127.7L77.33 126.91L78.14 126L78.85 125L79.41 123.92L79.83 122.78L80.08 121.6Z" fill="#4744e8"/>
<path d="M79.87 120.4L79.79 119.26L79.55 118.14L79.15 117.06L78.61 116.03L77.95 115.08L77.17 114.22L76.3 113.47L75.37 112.83L74.38 112.33L73.38 111.96L72.36 111.73L70.82 111.66L69.72 111.73L68.78 111.96L67.97 112.33L67.25 112.83L66.64 113.47L66.11 114.22L65.66 115.08L65.3 116.03L65.03 117.06L64.83 118.14L64.71 119.26L64.67 120.4L64.71 121.54L64.83 122.66L65.03 123.74L65.3 124.77L65.66 125.72L66.11 126.58L66.64 127.33L67.25 127.97L67.97 128.47L68.78 128.84L69.72 129.07L70.82 129.14L72.36 129.07L73.38 128.84L74.38 128.47L75.37 127.97L76.3 127.33L77.17 126.58L77.95 125.72L78.61 124.77L79.15 123.74L79.55 122.66L79.79 121.54Z" fill="#484ef1"/>
<path d="M79.57 120.4L79.49 119.32L79.26 118.26L78.89 117.23L78.38 116.26L77.75 115.36L77.01 114.55L76.19 113.83L75.3 113.23L74.37 112.75L73.42 112.4L72.46 112.19L71 112.12L69.95 112.19L69.06 112.4L68.29 112.75L67.62 113.23L67.03 113.83L66.53 114.55L66.11 115.36L65.77 116.26L65.51 117.23L65.32 118.26L65.21 119.32L65.17 120.4L65.21 121.48L65.32 122.54L65.51 123.57L65.77 124.54L66.11 125.44L66.53 126.25L67.03 126.97L67.62 127.57L68.29 128.05L69.06 128.4L69.95 128.61L71 128.68L72.46 128.61L73.42 128.4L74.37 128.05L75.3 127.57L76.19 126.97L77.01 126.25L77.75 125.44L78.38 124.54L78.89 123.57L79.26 122.54L79.49 121.48Z" fill="#475af9"/>
<path d="M79.27 120.4L79.19 119.38L78.98 118.38L78.62 117.41L78.14 116.49L77.55 115.64L76.85 114.87L76.08 114.2L75.24 113.63L74.36 113.18L73.46 112.85L72.55 112.65L71.17 112.58L70.18 112.65L69.34 112.85L68.62 113.18L67.98 113.63L67.43 114.2L66.95 114.87L66.56 115.64L66.23 116.49L65.99 117.41L65.81 118.38L65.7 119.38L65.67 120.4L65.7 121.42L65.81 122.42L65.99 123.39L66.23 124.31L66.56 125.16L66.95 125.93L67.43 126.6L67.98 127.17L68.62 127.62L69.34 127.95L70.18 128.15L71.17 128.22L72.55 128.15L73.46 127.95L74.36 127.62L75.24 127.17L76.08 126.6L76.85 125.93L77.55 125.16L78.14 124.31L78.62 123.39L78.98 122.42L79.19 121.42Z" fill="#4269fe"/>
<path d="M78.96 120.4L78.89 119.44L78.69 118.5L78.36 117.58L77.9 116.72L77.34 115.92L76.69 115.2L75.96 114.56L75.17 114.03L74.34 113.6L73.49 113.29L72.64 113.1L71.34 113.04L70.41 113.1L69.62 113.29L68.94 113.6L68.34 114.03L67.82 114.56L67.37 115.2L67 115.92L66.7 116.72L66.46 117.58L66.3 118.5L66.2 119.44L66.16 120.4L66.2 121.36L66.3 122.3L66.46 123.22L66.7 124.08L67 124.88L67.37 125.6L67.82 126.24L68.34 126.77L68.94 127.2L69.62 127.51L70.41 127.7L71.34 127.76L72.64 127.7L73.49 127.51L74.34 127.2L75.17 126.77L75.96 126.24L76.69 125.6L77.34 124.88L77.9 124.08L78.36 123.22L78.69 122.3L78.89 121.36Z" fill="#327cfc"/>
<path d="M78.66 120.4L78.59 119.5L78.4 118.61L78.09 117.76L77.66 116.95L77.14 116.2L76.52 115.52L75.84 114.93L75.1 114.42L74.33 114.03L73.53 113.74L72.73 113.56L71.51 113.5L70.64 113.56L69.9 113.74L69.26 114.03L68.7 114.42L68.21 114.93L67.79 115.52L67.44 116.2L67.16 116.95L66.94 117.76L66.78 118.61L66.69 119.5L66.66 120.4L66.69 121.3L66.78 122.19L66.94 123.04L67.16 123.85L67.44 124.6L67.79 125.28L68.21 125.87L68.7 126.38L69.26 126.77L69.9 127.06L70.64 127.24L71.51 127.3L72.73 127.24L73.53 127.06L74.33 126.77L75.1 126.38L75.84 125.87L76.52 125.28L77.14 124.6L77.66 123.85L78.09 123.04L78.4 122.19L78.59 121.3Z" fill="#2c8ff1"/>
<path d="M78.35 120.4L78.29 119.56L78.11 118.73L77.82 117.94L77.42 117.18L76.93 116.48L76.36 115.85L75.72 115.29L75.03 114.82L74.31 114.45L73.56 114.18L72.81 114.02L71.68 113.96L70.86 114.02L70.18 114.18L69.58 114.45L69.05 114.82L68.6 115.29L68.21 115.85L67.88 116.48L67.61 117.18L67.41 117.94L67.26 118.73L67.18 119.56L67.15 120.4L67.18 121.24L67.26 122.07L67.41 122.86L67.61 123.62L67.88 124.32L68.21 124.95L68.6 125.51L69.05 125.98L69.58 126.35L70.18 126.62L70.86 126.78L71.68 126.84L72.81 126.78L73.56 126.62L74.31 126.35L75.03 125.98L75.72 125.51L76.36 124.95L76.93 124.32L77.42 123.62L77.82 122.86L78.11 122.07L78.29 121.24Z" fill="#22a1e4"/>
<path d="M78.04 120.4L77.98 119.62L77.81 118.85L77.54 118.11L77.18 117.41L76.72 116.76L76.19 116.17L75.59 115.66L74.95 115.22L74.28 114.88L73.59 114.62L72.9 114.47L71.84 114.42L71.09 114.47L70.45 114.62L69.89 114.88L69.4 115.22L68.98 115.66L68.62 116.17L68.32 116.76L68.07 117.41L67.88 118.11L67.74 118.85L67.66 119.62L67.64 120.4L67.66 121.18L67.74 121.95L67.88 122.69L68.07 123.39L68.32 124.04L68.62 124.63L68.98 125.14L69.4 125.58L69.89 125.92L70.45 126.18L71.09 126.33L71.84 126.38L72.9 126.33L73.59 126.18L74.28 125.92L74.95 125.58L75.59 125.14L76.19 124.63L76.72 124.04L77.18 123.39L77.54 122.69L77.81 121.95L77.98 121.18Z" fill="#0db3d3"/>
<path d="M77.72 120.4L77.67 119.68L77.52 118.97L77.27 118.29L76.93 117.64L76.51 117.04L76.01 116.5L75.47 116.02L74.88 115.62L74.26 115.3L73.62 115.07L72.98 114.93L72 114.88L71.31 114.93L70.72 115.07L70.2 115.3L69.75 115.62L69.36 116.02L69.03 116.5L68.75 117.04L68.52 117.64L68.35 118.29L68.22 118.97L68.15 119.68L68.12 120.4L68.15 121.12L68.22 121.83L68.35 122.51L68.52 123.16L68.75 123.76L69.03 124.3L69.36 124.78L69.75 125.18L70.2 125.5L70.72 125.73L71.31 125.87L72 125.92L72.98 125.87L73.62 125.73L74.26 125.5L74.88 125.18L75.47 124.78L76.01 124.3L76.51 123.76L76.93 123.16L77.27 122.51L77.52 121.83L77.67 121.12Z" fill="#17bfb7"/>
<path d="M77.4 120.4L77.35 119.74L77.21 119.09L76.99 118.46L76.67 117.87L76.29 117.32L75.84 116.82L75.34 116.39L74.79 116.02L74.23 115.73L73.64 115.51L73.05 115.38L72.16 115.34L71.52 115.38L70.98 115.51L70.51 115.73L70.1 116.02L69.74 116.39L69.43 116.82L69.18 117.32L68.97 117.87L68.81 118.46L68.69 119.09L68.62 119.74L68.6 120.4L68.62 121.06L68.69 121.71L68.81 122.34L68.97 122.93L69.18 123.48L69.43 123.98L69.74 124.41L70.1 124.78L70.51 125.07L70.98 125.29L71.52 125.42L72.16 125.46L73.05 125.42L73.64 125.29L74.23 125.07L74.79 124.78L75.34 124.41L75.84 123.98L76.29 123.48L76.67 122.93L76.99 122.34L77.21 121.71L77.35 121.06Z" fill="#3ac994"/>
<path d="M77.08 120.4L77.04 119.8L76.91 119.21L76.7 118.64L76.42 118.1L76.07 117.6L75.66 117.15L75.2 116.75L74.71 116.42L74.19 116.15L73.66 115.96L73.13 115.84L72.32 115.8L71.73 115.84L71.24 115.96L70.81 116.15L70.44 116.42L70.11 116.75L69.83 117.15L69.6 117.6L69.41 118.1L69.27 118.64L69.16 119.21L69.1 119.8L69.08 120.4L69.1 121L69.16 121.59L69.27 122.16L69.41 122.7L69.6 123.2L69.83 123.65L70.11 124.05L70.44 124.38L70.81 124.65L71.24 124.84L71.73 124.96L72.32 125L73.13 124.96L73.66 124.84L74.19 124.65L74.71 124.38L75.2 124.05L75.66 123.65L76.07 123.2L76.42 122.7L76.7 122.16L76.91 121.59L77.04 121Z" fill="#6fcd65"/>
<path d="M76.75 120.4L76.71 119.86L76.6 119.33L76.41 118.82L76.16 118.33L75.84 117.88L75.47 117.47L75.06 117.12L74.62 116.81L74.15 116.58L73.67 116.4L73.19 116.3L72.46 116.26L71.94 116.3L71.5 116.4L71.11 116.58L70.78 116.81L70.48 117.12L70.23 117.47L70.02 117.88L69.85 118.33L69.72 118.82L69.63 119.33L69.57 119.86L69.55 120.4L69.57 120.94L69.63 121.47L69.72 121.98L69.85 122.47L70.02 122.92L70.23 123.33L70.48 123.68L70.78 123.99L71.11 124.22L71.5 124.4L71.94 124.5L72.46 124.54L73.19 124.5L73.67 124.4L74.15 124.22L74.62 123.99L75.06 123.68L75.47 123.33L75.84 122.92L76.16 122.47L76.41 121.98L76.6 121.47L76.71 120.94Z" fill="#aec637"/>
<path d="M76.42 120.4L76.38 119.92L76.28 119.45L76.12 118.99L75.89 118.56L75.61 118.16L75.28 117.8L74.92 117.48L74.52 117.21L74.11 117L73.68 116.85L73.26 116.75L72.61 116.72L72.14 116.75L71.75 116.85L71.41 117L71.11 117.21L70.85 117.48L70.62 117.8L70.44 118.16L70.29 118.56L70.17 118.99L70.09 119.45L70.04 119.92L70.02 120.4L70.04 120.88L70.09 121.35L70.17 121.81L70.29 122.24L70.44 122.64L70.62 123L70.85 123.32L71.11 123.59L71.41 123.8L71.75 123.95L72.14 124.05L72.61 124.08L73.26 124.05L73.68 123.95L74.11 123.8L74.52 123.59L74.92 123.32L75.28 123L75.61 122.64L75.89 122.24L76.12 121.81L76.28 121.35L76.38 120.88Z" fill="#debc2a"/>
<path d="M76.08 120.4L76.05 119.98L75.96 119.57L75.82 119.17L75.62 118.79L75.37 118.44L75.09 118.12L74.77 117.85L74.42 117.61L74.06 117.43L73.69 117.29L73.31 117.21L72.75 117.18L72.34 117.21L71.99 117.29L71.69 117.43L71.43 117.61L71.2 117.85L71.01 118.12L70.85 118.44L70.71 118.79L70.61 119.17L70.54 119.57L70.5 119.98L70.48 120.4L70.5 120.82L70.54 121.23L70.61 121.63L70.71 122.01L70.85 122.36L71.01 122.68L71.2 122.95L71.43 123.19L71.69 123.37L71.99 123.51L72.34 123.59L72.75 123.62L73.31 123.59L73.69 123.51L74.06 123.37L74.42 123.19L74.77 122.95L75.09 122.68L75.37 122.36L75.62 122.01L75.82 121.63L75.96 121.23L76.05 120.82Z" fill="#fdbd3d"/>
<path d="M75.74 120.4L75.71 120.04L75.63 119.69L75.51 119.34L75.34 119.02L75.13 118.72L74.88 118.45L74.61 118.21L74.31 118.01L74 117.85L73.69 117.73L73.36 117.66L72.88 117.64L72.53 117.66L72.23 117.73L71.98 117.85L71.75 118.01L71.56 118.21L71.39 118.45L71.25 118.72L71.14 119.02L71.05 119.34L70.99 119.69L70.95 120.04L70.94 120.4L70.95 120.76L70.99 121.11L71.05 121.46L71.14 121.78L71.25 122.08L71.39 122.35L71.56 122.59L71.75 122.79L71.98 122.95L72.23 123.07L72.53 123.14L72.88 123.16L73.36 123.14L73.69 123.07L74 122.95L74.31 122.79L74.61 122.59L74.88 122.35L75.13 122.08L75.34 121.78L75.51 121.46L75.63 121.11L75.71 120.76Z" fill="#fcd030"/>
<path d="M75.38 120.4L75.36 120.1L75.3 119.8L75.2 119.52L75.05 119.25L74.88 119L74.67 118.77L74.45 118.58L74.2 118.41L73.94 118.28L73.68 118.18L73.41 118.12L73 118.1L72.71 118.12L72.47 118.18L72.25 118.28L72.06 118.41L71.9 118.58L71.76 118.77L71.65 119L71.55 119.25L71.48 119.52L71.43 119.8L71.39 120.1L71.38 120.4L71.39 120.7L71.43 121L71.48 121.28L71.55 121.55L71.65 121.8L71.76 122.03L71.9 122.22L72.06 122.39L72.25 122.52L72.47 122.62L72.71 122.68L73 122.7L73.41 122.68L73.68 122.62L73.94 122.52L74.2 122.39L74.45 122.22L74.67 122.03L74.88 121.8L75.05 121.55L75.2 121.28L75.3 121L75.36 120.7Z" fill="#f6e028"/>
<path d="M75.03 120.4L75.01 120.16L74.96 119.92L74.87 119.7L74.76 119.48L74.62 119.28L74.46 119.1L74.27 118.94L74.08 118.81L73.87 118.7L73.66 118.62L73.44 118.58L73.12 118.56L72.89 118.58L72.69 118.62L72.52 118.7L72.37 118.81L72.24 118.94L72.13 119.1L72.03 119.28L71.96 119.48L71.9 119.7L71.86 119.92L71.83 120.16L71.83 120.4L71.83 120.64L71.86 120.88L71.9 121.1L71.96 121.32L72.03 121.52L72.13 121.7L72.24 121.86L72.37 121.99L72.52 122.1L72.69 122.18L72.89 122.22L73.12 122.24L73.44 122.22L73.66 122.18L73.87 122.1L74.08 121.99L74.27 121.86L74.46 121.7L74.62 121.52L74.76 121.32L74.87 121.1L74.96 120.88L75.01 120.64Z" fill="#f5ec22"/>
<path d="M74.66 120.4L74.64 120.22L74.61 120.04L74.54 119.87L74.46 119.71L74.35 119.56L74.23 119.42L74.09 119.31L73.95 119.2L73.79 119.13L73.63 119.07L73.47 119.03L73.23 119.02L73.05 119.03L72.91 119.07L72.78 119.13L72.67 119.2L72.57 119.31L72.48 119.42L72.41 119.56L72.36 119.71L72.31 119.87L72.28 120.04L72.26 120.22L72.26 120.4L72.26 120.58L72.28 120.76L72.31 120.93L72.36 121.09L72.41 121.24L72.48 121.38L72.57 121.49L72.67 121.6L72.78 121.67L72.91 121.73L73.05 121.77L73.23 121.78L73.47 121.77L73.63 121.73L73.79 121.67L73.95 121.6L74.09 121.49L74.23 121.38L74.35 121.24L74.46 121.09L74.54 120.93L74.61 120.76L74.64 120.58Z" fill="#f7f41c"/>
<path d="M74.28 120.4L74.27 120.28L74.25 120.16L74.21 120.05L74.15 119.94L74.08 119.84L74 119.75L73.91 119.67L73.81 119.6L73.7 119.55L73.6 119.51L73.49 119.49L73.33 119.48L73.21 119.49L73.11 119.51L73.03 119.55L72.95 119.6L72.89 119.67L72.83 119.75L72.79 119.84L72.75 119.94L72.72 120.05L72.7 120.16L72.69 120.28L72.68 120.4L72.69 120.52L72.7 120.64L72.72 120.75L72.75 120.86L72.79 120.96L72.83 121.05L72.89 121.13L72.95 121.2L73.03 121.25L73.11 121.29L73.21 121.31L73.33 121.32L73.49 121.31L73.6 121.29L73.7 121.25L73.81 121.2L73.91 121.13L74 121.05L74.08 120.96L74.15 120.86L74.21 120.75L74.25 120.64L74.27 120.52Z" fill="#f8f917"/>
<path d="M73.9 120.4L73.89 120.34L73.88 120.28L73.86 120.22L73.83 120.17L73.79 120.12L73.75 120.07L73.71 120.04L73.66 120L73.61 119.98L73.55 119.96L73.5 119.94L73.42 119.94L73.36 119.94L73.31 119.96L73.27 119.98L73.23 120L73.2 120.04L73.17 120.07L73.15 120.12L73.13 120.17L73.11 120.22L73.1 120.28L73.1 120.34L73.1 120.4L73.1 120.46L73.1 120.52L73.11 120.58L73.13 120.63L73.15 120.68L73.17 120.73L73.2 120.76L73.23 120.8L73.27 120.82L73.31 120.84L73.36 120.86L73.42 120.86L73.5 120.86L73.55 120.84L73.61 120.82L73.66 120.8L73.71 120.76L73.75 120.73L73.79 120.68L73.83 120.63L73.86 120.58L73.88 120.52L73.89 120.46Z" fill="#f9fb15"/>
<path d="M84.15 120.4L83.99 118.38L83.53 116.4L82.78 114.48L81.76 112.67L80.5 110.98L79.05 109.46L77.43 108.13L75.71 107L73.91 106.11L72.09 105.46L69.8 105.06L67.43 104.93L65.59 105.06L64.02 105.46L62.65 106.11L61.46 107L60.44 108.13L59.57 109.46L58.85 110.98L58.26 112.67L57.82 114.48L57.5 116.4L57.31 118.38L57.25 120.4L57.31 122.42L57.5 124.4L57.82 126.32L58.26 128.13L58.85 129.82L59.57 131.34L60.44 132.67L61.46 133.8L62.65 134.69L64.02 135.34L65.59 135.74L67.43 135.87L69.8 135.74L72.09 135.34L73.91 134.69L75.71 133.8L77.43 132.67L79.05 131.34L80.5 129.82L81.76 128.13L82.78 126.32L83.53 124.4L83.99 122.42Z" fill="none" stroke="#000" stroke-opacity="0.3" stroke-width="0.5"/>
<path d="M81.9 120.4L81.79 118.85L81.46 117.32L80.91 115.85L80.17 114.45L79.26 113.15L78.19 111.98L77 110.96L75.72 110.09L74.38 109.4L73 108.9L71.62 108.6L69.5 108.5L68.01 108.6L66.75 108.9L65.64 109.4L64.68 110.09L63.85 110.96L63.14 111.98L62.54 113.15L62.05 114.45L61.68 115.85L61.41 117.32L61.25 118.85L61.2 120.4L61.25 121.95L61.41 123.48L61.68 124.95L62.05 126.35L62.54 127.65L63.14 128.82L63.85 129.84L64.68 130.71L65.64 131.4L66.75 131.9L68.01 132.2L69.5 132.3L71.62 132.2L73 131.9L74.38 131.4L75.72 130.71L77 129.84L78.19 128.82L79.26 127.65L80.17 126.35L80.91 124.95L81.46 123.48L81.79 121.95Z" fill="none" stroke="#000" stroke-opacity="0.3" stroke-width="0.5"/>
<path d="M79.72 120.4L79.64 119.29L79.41 118.2L79.02 117.14L78.5 116.15L77.85 115.22L77.09 114.38L76.25 113.65L75.34 113.03L74.38 112.54L73.4 112.18L72.41 111.96L70.91 111.89L69.83 111.96L68.92 112.18L68.13 112.54L67.44 113.03L66.83 113.65L66.32 114.38L65.89 115.22L65.54 116.15L65.27 117.14L65.07 118.2L64.96 119.29L64.92 120.4L64.96 121.51L65.07 122.6L65.27 123.66L65.54 124.66L65.89 125.58L66.32 126.42L66.83 127.15L67.44 127.77L68.13 128.26L68.92 128.62L69.83 128.84L70.91 128.91L72.41 128.84L73.4 128.62L74.38 128.26L75.34 127.77L76.25 127.15L77.09 126.42L77.85 125.58L78.5 124.66L79.02 123.66L79.41 122.6L79.64 121.51Z" fill="none" stroke="#000" stroke-opacity="0.3" stroke-width="0.5"/>
<path d="M78.5 120.4L78.44 119.53L78.26 118.67L77.95 117.85L77.54 117.07L77.03 116.34L76.44 115.68L75.78 115.11L75.07 114.62L74.32 114.24L73.55 113.96L72.77 113.79L71.6 113.73L70.75 113.79L70.04 113.96L69.42 114.24L68.87 114.62L68.4 115.11L68 115.68L67.66 116.34L67.39 117.07L67.17 117.85L67.02 118.67L66.93 119.53L66.9 120.4L66.93 121.27L67.02 122.13L67.17 122.95L67.39 123.73L67.66 124.46L68 125.12L68.4 125.69L68.87 126.18L69.42 126.56L70.04 126.84L70.75 127.01L71.6 127.07L72.77 127.01L73.55 126.84L74.32 126.56L75.07 126.18L75.78 125.69L76.44 125.12L77.03 124.46L77.54 123.74L77.95 122.95L78.26 122.13L78.44 121.27Z" fill="none" stroke="#000" stroke-opacity="0.25" stroke-width="0.5"/>
<path d="M77.56 120.4L77.51 119.71L77.37 119.03L77.13 118.38L76.8 117.76L76.4 117.18L75.93 116.66L75.4 116.2L74.84 115.82L74.24 115.51L73.63 115.29L73.02 115.16L72.08 115.11L71.41 115.16L70.85 115.29L70.36 115.51L69.93 115.82L69.55 116.2L69.23 116.66L68.96 117.18L68.75 117.76L68.58 118.38L68.46 119.03L68.39 119.71L68.36 120.4L68.39 121.09L68.46 121.77L68.58 122.42L68.75 123.05L68.96 123.62L69.23 124.14L69.55 124.6L69.93 124.98L70.36 125.29L70.85 125.51L71.41 125.64L72.08 125.69L73.02 125.64L73.63 125.51L74.24 125.29L74.84 124.98L75.4 124.6L75.93 124.14L76.4 123.62L76.8 123.05L77.13 122.42L77.37 121.77L77.51 121.09Z" fill="none" stroke="#000" stroke-opacity="0.25" stroke-width="0.5"/>
<path d="M76.75 120.4L76.71 119.86L76.6 119.33L76.41 118.82L76.16 118.33L75.84 117.88L75.47 117.47L75.06 117.12L74.62 116.81L74.15 116.58L73.67 116.4L73.19 116.3L72.46 116.26L71.94 116.3L71.5 116.4L71.11 116.58L70.78 116.81L70.48 117.12L70.23 117.47L70.02 117.88L69.85 118.33L69.72 118.82L69.63 119.33L69.57 119.86L69.55 120.4L69.57 120.94L69.63 121.47L69.72 121.98L69.85 122.47L70.02 122.92L70.23 123.33L70.48 123.68L70.78 123.99L71.11 124.22L71.5 124.4L71.94 124.5L72.46 124.54L73.19 124.5L73.67 124.4L74.15 124.22L74.62 123.99L75.06 123.68L75.47 123.33L75.84 122.92L76.16 122.47L76.41 121.98L76.6 121.47L76.71 120.94Z" fill="none" stroke="#000" stroke-opacity="0.3" stroke-width="0.6"/>
<path d="M76 120.4L75.97 119.99L75.88 119.6L75.74 119.21L75.55 118.85L75.31 118.51L75.04 118.2L74.73 117.94L74.4 117.71L74.05 117.53L73.69 117.4L73.33 117.32L72.78 117.3L72.39 117.32L72.06 117.4L71.77 117.53L71.51 117.71L71.29 117.94L71.11 118.2L70.95 118.51L70.82 118.85L70.72 119.21L70.65 119.6L70.61 119.99L70.6 120.4L70.61 120.81L70.65 121.2L70.72 121.59L70.82 121.95L70.95 122.29L71.11 122.6L71.29 122.86L71.51 123.09L71.77 123.27L72.06 123.4L72.39 123.48L72.78 123.51L73.33 123.48L73.69 123.4L74.05 123.27L74.4 123.09L74.73 122.86L75.04 122.6L75.31 122.29L75.55 121.95L75.74 121.59L75.88 121.2L75.97 120.81Z" fill="none" stroke="#000" stroke-opacity="0.3" stroke-width="0.6"/>
<path d="M90.5 120.4C90.5 118.5 90.22 116.5 89.6 114.7C88.98 112.9 88.02 111.35 86.8 109.6C85.58 107.85 84.02 105.92 82.3 104.2C80.58 102.48 78.63 100.73 76.5 99.3C74.37 97.87 71.83 96.62 69.5 95.6C67.17 94.58 64.75 93.7 62.5 93.2C60.25 92.7 58.08 92.47 56 92.6C53.92 92.73 51.73 93.17 50 94C48.27 94.83 46.77 96.1 45.6 97.6C44.43 99.1 43.62 101.13 43 103C42.38 104.87 42.12 106.88 41.9 108.8C41.68 110.72 41.73 112.57 41.7 114.5C41.67 116.43 41.7 118.43 41.7 120.4C41.7 122.37 41.67 124.37 41.7 126.3C41.73 128.23 41.68 130.08 41.9 132C42.12 133.92 42.38 135.93 43 137.8C43.62 139.67 44.43 141.7 45.6 143.2C46.77 144.7 48.27 145.97 50 146.8C51.73 147.63 53.92 148.07 56 148.2C58.08 148.33 60.25 148.1 62.5 147.6C64.75 147.1 67.17 146.22 69.5 145.2C71.83 144.18 74.37 142.93 76.5 141.5C78.63 140.07 80.58 138.32 82.3 136.6C84.02 134.88 85.58 132.95 86.8 131.2C88.02 129.45 88.98 127.9 89.6 126.1C90.22 124.3 90.5 122.3 90.5 120.4Z" fill="none" stroke="#f6f2fb" stroke-width="1.1"/>
<path d="M19.4 57.9V182.9H117.6" fill="none" stroke="#9a9a9a" stroke-width="0.6"/>
<path d="M19.4 57.9H117.6V182.9" fill="none" stroke="#9a9a9a" stroke-width="0.5" stroke-opacity="0.6"/>
<path d="M19.4 182.9v-1.2M19.4 57.9v1.2M60.32 182.9v-1.2M60.32 57.9v1.2M101.23 182.9v-1.2M101.23 57.9v1.2M19.4 182.9h1.2M117.6 182.9h-1.2M19.4 167.28h1.2M117.6 167.28h-1.2M19.4 151.65h1.2M117.6 151.65h-1.2M19.4 136.03h1.2M117.6 136.03h-1.2M19.4 120.4h1.2M117.6 120.4h-1.2M19.4 104.78h1.2M117.6 104.78h-1.2M19.4 89.15h1.2M117.6 89.15h-1.2M19.4 73.52h1.2M117.6 73.52h-1.2M19.4 57.9h1.2M117.6 57.9h-1.2" fill="none" stroke="#9a9a9a" stroke-width="0.5"/>
<g font-size="5.8" fill="#2a2a2a">
<text x="19.4" y="190.9" text-anchor="middle">0</text>
<text x="60.32" y="190.9" text-anchor="middle">0.5</text>
<text x="101.23" y="190.9" text-anchor="middle">1</text>
<text x="17.9" y="60.2" text-anchor="end">0.8</text>
<text x="17.9" y="75.82" text-anchor="end">0.6</text>
<text x="17.9" y="91.45" text-anchor="end">0.4</text>
<text x="17.9" y="107.08" text-anchor="end">0.2</text>
<text x="17.9" y="122.7" text-anchor="end">0</text>
<text x="17.9" y="138.33" text-anchor="end">-0.2</text>
<text x="17.9" y="153.95" text-anchor="end">-0.4</text>
<text x="17.9" y="169.58" text-anchor="end">-0.6</text>
<text x="17.9" y="185.2" text-anchor="end">-0.8</text>
</g>
<text x="69" y="199.5" font-size="6.5" text-anchor="middle" fill="#2a2a2a">R (m)</text>
<text transform="translate(5.4 120.5) rotate(-90)" font-size="6.5" text-anchor="middle" fill="#2a2a2a">Z (m)</text>
<text x="68.8" y="54.7" font-size="6.35" font-weight="bold" text-anchor="middle" fill="#111">SXR emissivity (1 - 5 keV)</text>
<rect x="120.9" y="57.9" width="5.9" height="125" fill="url(#pg)" stroke="#9a9a9a" stroke-width="0.4"/>
<g font-size="5.2" fill="#2a2a2a">
<path d="M126.8 182.9h-1" stroke="#9a9a9a" stroke-width="0.4"/>
<text x="128.9" y="185.2">0</text>
<path d="M126.8 161.16h-1" stroke="#9a9a9a" stroke-width="0.4"/>
<text x="128.9" y="163.46">2</text>
<path d="M126.8 139.42h-1" stroke="#9a9a9a" stroke-width="0.4"/>
<text x="128.9" y="141.72">4</text>
<path d="M126.8 117.68h-1" stroke="#9a9a9a" stroke-width="0.4"/>
<text x="128.9" y="119.98">6</text>
<path d="M126.8 95.94h-1" stroke="#9a9a9a" stroke-width="0.4"/>
<text x="128.9" y="98.24">8</text>
<path d="M126.8 74.2h-1" stroke="#9a9a9a" stroke-width="0.4"/>
<text x="128.9" y="76.5">10</text>
</g>
<text transform="translate(140.4 119.8) rotate(-90)" font-size="5.45" text-anchor="middle" fill="#2a2a2a">SXR emissivity (kW.m<tspan font-size="3.6" dy="-2.2">-3</tspan><tspan dy="2.2">)</tspan></text>
</g>
<g transform="translate(299.6 0)">
<rect x="19.4" y="57.9" width="98.2" height="125" fill="#fff" stroke="none"/>
<rect x="39.86" y="73.62" width="57.28" height="94" fill="#3e26a8" stroke="#000" stroke-width="1.1"/>
<path d="M84.74 120.4L84.54 117.85L83.95 115.34L82.98 112.91L81.68 110.62L80.08 108.49L78.24 106.57L76.22 104.88L74.06 103.46L71.83 102.33L69.59 101.51L66.5 101.01L63.85 100.84L61.71 101.01L59.88 101.51L58.29 102.33L56.92 103.46L55.75 104.88L54.76 106.57L53.94 108.49L53.28 110.62L52.78 112.91L52.42 115.34L52.21 117.85L52.14 120.4L52.21 122.95L52.42 125.46L52.78 127.89L53.28 130.18L53.94 132.31L54.76 134.23L55.75 135.92L56.92 137.34L58.29 138.47L59.88 139.29L61.71 139.79L63.85 139.96L66.5 139.79L69.59 139.29L71.83 138.47L74.06 137.34L76.22 135.92L78.24 134.23L80.08 132.31L81.68 130.18L82.98 127.89L83.95 125.46L84.54 122.95Z" fill="#463bdd"/>
<path d="M84.5 120.4L84.3 117.91L83.73 115.46L82.8 113.1L81.54 110.86L79.99 108.79L78.21 106.91L76.24 105.27L74.15 103.88L71.98 102.78L69.8 101.98L66.82 101.49L64.22 101.33L62.12 101.49L60.32 101.98L58.77 102.78L57.42 103.88L56.27 105.27L55.29 106.91L54.48 108.79L53.83 110.86L53.34 113.1L52.99 115.46L52.78 117.91L52.71 120.4L52.78 122.89L52.99 125.34L53.34 127.7L53.83 129.94L54.48 132.01L55.29 133.89L56.27 135.53L57.42 136.92L58.77 138.02L60.32 138.82L62.12 139.31L64.22 139.47L66.82 139.31L69.8 138.82L71.98 138.02L74.15 136.92L76.24 135.53L78.21 133.89L79.99 132.01L81.54 129.94L82.8 127.7L83.73 125.34L84.3 122.89Z" fill="#463de0"/>
<path d="M84.25 120.4L84.06 117.97L83.51 115.59L82.61 113.29L81.39 111.11L79.89 109.09L78.17 107.26L76.26 105.66L74.23 104.31L72.13 103.23L70 102.45L67.14 101.98L64.58 101.82L62.52 101.98L60.76 102.45L59.24 103.23L57.91 104.31L56.78 105.66L55.82 107.26L55.03 109.09L54.39 111.11L53.9 113.29L53.55 115.59L53.35 117.97L53.28 120.4L53.35 122.83L53.55 125.21L53.9 127.51L54.39 129.69L55.03 131.71L55.82 133.54L56.78 135.14L57.91 136.49L59.24 137.57L60.76 138.35L62.52 138.82L64.58 138.98L67.14 138.82L70 138.35L72.13 137.57L74.23 136.49L76.26 135.14L78.17 133.54L79.89 131.71L81.39 129.69L82.61 127.51L83.51 125.21L84.06 122.83Z" fill="#4740e4"/>
<path d="M84.01 120.4L83.83 118.04L83.29 115.72L82.42 113.48L81.24 111.35L79.79 109.39L78.12 107.61L76.28 106.05L74.31 104.73L72.27 103.68L70.21 102.92L67.45 102.46L64.93 102.31L62.92 102.46L61.2 102.92L59.7 103.68L58.41 104.73L57.29 106.05L56.35 107.61L55.57 109.39L54.94 111.35L54.46 113.48L54.12 115.72L53.92 118.04L53.85 120.4L53.92 122.76L54.12 125.08L54.46 127.32L54.94 129.45L55.57 131.41L56.35 133.19L57.29 134.75L58.41 136.07L59.7 137.12L61.2 137.88L62.92 138.34L64.93 138.49L67.45 138.34L70.21 137.88L72.27 137.12L74.31 136.07L76.28 134.75L78.12 133.19L79.79 131.41L81.24 129.45L82.42 127.32L83.29 125.08L83.83 122.76Z" fill="#4744e8"/>
<path d="M83.76 120.4L83.59 118.1L83.07 115.84L82.23 113.66L81.09 111.6L79.69 109.68L78.08 107.95L76.29 106.43L74.38 105.15L72.41 104.14L70.4 103.4L67.77 102.95L65.28 102.8L63.31 102.95L61.63 103.4L60.16 104.14L58.89 105.15L57.8 106.43L56.88 107.95L56.11 109.68L55.49 111.6L55.02 113.66L54.69 115.84L54.49 118.1L54.42 120.4L54.49 122.7L54.69 124.96L55.02 127.14L55.49 129.2L56.11 131.12L56.88 132.85L57.8 134.37L58.89 135.65L60.16 136.66L61.63 137.4L63.31 137.85L65.28 138L67.77 137.85L70.4 137.4L72.41 136.66L74.38 135.65L76.29 134.37L78.08 132.85L79.69 131.12L81.09 129.2L82.23 127.14L83.07 124.96L83.59 122.7Z" fill="#4848ec"/>
<path d="M83.51 120.4L83.35 118.17L82.85 115.97L82.04 113.85L80.94 111.84L79.59 109.98L78.03 108.3L76.3 106.82L74.46 105.58L72.54 104.59L70.6 103.87L68.07 103.43L65.63 103.29L63.7 103.43L62.05 103.87L60.62 104.59L59.38 105.58L58.31 106.82L57.41 108.3L56.65 109.98L56.05 111.84L55.58 113.85L55.25 115.97L55.06 118.17L54.99 120.4L55.06 122.63L55.25 124.83L55.58 126.95L56.05 128.96L56.65 130.82L57.41 132.5L58.31 133.98L59.38 135.22L60.62 136.21L62.05 136.93L63.7 137.37L65.63 137.52L68.07 137.37L70.6 136.93L72.54 136.21L74.46 135.22L76.3 133.98L78.03 132.5L79.59 130.82L80.94 128.96L82.04 126.95L82.85 124.83L83.35 122.63Z" fill="#484cef"/>
<path d="M83.27 120.4L83.11 118.23L82.63 116.1L81.85 114.04L80.79 112.09L79.48 110.28L77.98 108.64L76.31 107.21L74.52 106L72.67 105.04L70.79 104.34L68.38 103.92L65.97 103.77L64.09 103.92L62.48 104.34L61.08 105.04L59.86 106L58.82 107.21L57.93 108.64L57.19 110.28L56.6 112.09L56.14 114.04L55.82 116.1L55.62 118.23L55.56 120.4L55.62 122.57L55.82 124.7L56.14 126.76L56.6 128.71L57.19 130.52L57.93 132.16L58.82 133.59L59.86 134.8L61.08 135.76L62.48 136.46L64.09 136.88L65.97 137.03L68.38 136.88L70.79 136.46L72.67 135.76L74.52 134.8L76.31 133.59L77.98 132.16L79.48 130.52L80.79 128.71L81.85 126.76L82.63 124.7L83.11 122.57Z" fill="#4850f3"/>
<path d="M83.02 120.4L82.87 118.29L82.4 116.22L81.65 114.22L80.63 112.33L79.38 110.58L77.92 108.99L76.31 107.6L74.59 106.42L72.79 105.49L70.97 104.81L68.68 104.4L66.31 104.26L64.47 104.4L62.9 104.81L61.53 105.49L60.35 106.42L59.32 107.6L58.45 108.99L57.73 110.58L57.15 112.33L56.7 114.22L56.38 116.22L56.19 118.29L56.13 120.4L56.19 122.51L56.38 124.58L56.7 126.58L57.15 128.47L57.73 130.22L58.45 131.81L59.32 133.2L60.35 134.38L61.53 135.31L62.9 135.99L64.47 136.4L66.31 136.54L68.68 136.4L70.97 135.99L72.79 135.31L74.59 134.38L76.31 133.2L77.92 131.81L79.38 130.22L80.63 128.47L81.65 126.58L82.4 124.58L82.87 122.51Z" fill="#4755f6"/>
<path d="M82.77 120.4L82.62 118.36L82.18 116.35L81.46 114.41L80.48 112.58L79.27 110.87L77.87 109.34L76.31 107.99L74.65 106.85L72.91 105.94L71.15 105.29L68.97 104.89L66.65 104.75L64.85 104.89L63.32 105.29L61.98 105.94L60.82 106.85L59.82 107.99L58.97 109.34L58.26 110.87L57.69 112.58L57.25 114.41L56.94 116.35L56.76 118.36L56.69 120.4L56.76 122.44L56.94 124.45L57.25 126.39L57.69 128.22L58.26 129.93L58.97 131.46L59.82 132.81L60.82 133.95L61.98 134.86L63.32 135.51L64.85 135.91L66.65 136.05L68.97 135.91L71.15 135.51L72.91 134.86L74.65 133.95L76.31 132.81L77.87 131.46L79.27 129.93L80.48 128.22L81.46 126.39L82.18 124.45L82.62 122.44Z" fill="#475bf9"/>
<path d="M82.53 120.4L82.38 118.42L81.96 116.48L81.26 114.6L80.32 112.82L79.15 111.17L77.81 109.68L76.31 108.37L74.7 107.27L73.03 106.39L71.32 105.76L69.27 105.37L66.97 105.24L65.22 105.37L63.73 105.76L62.43 106.39L61.3 107.27L60.32 108.37L59.49 109.68L58.8 111.17L58.24 112.82L57.81 114.6L57.5 116.48L57.32 118.42L57.26 120.4L57.32 122.38L57.5 124.32L57.81 126.2L58.24 127.98L58.8 129.63L59.49 131.12L60.32 132.43L61.3 133.53L62.43 134.41L63.73 135.04L65.22 135.43L66.97 135.56L69.27 135.43L71.32 135.04L73.03 134.41L74.7 133.53L76.31 132.43L77.81 131.12L79.15 129.63L80.32 127.98L81.26 126.2L81.96 124.32L82.38 122.38Z" fill="#4561fc"/>
<path d="M82.28 120.4L82.14 118.49L81.73 116.6L81.06 114.79L80.16 113.07L79.04 111.47L77.74 110.03L76.3 108.76L74.76 107.7L73.14 106.85L71.5 106.23L69.56 105.86L67.3 105.73L65.59 105.86L64.14 106.23L62.87 106.85L61.77 107.7L60.82 108.76L60.01 110.03L59.33 111.47L58.78 113.07L58.36 114.79L58.07 116.6L57.89 118.49L57.83 120.4L57.89 122.31L58.07 124.2L58.36 126.01L58.78 127.73L59.33 129.33L60.01 130.77L60.82 132.04L61.77 133.1L62.87 133.95L64.14 134.57L65.59 134.94L67.3 135.07L69.56 134.94L71.5 134.57L73.14 133.95L74.76 133.1L76.3 132.04L77.74 130.77L79.04 129.33L80.16 127.74L81.06 126.01L81.73 124.2L82.14 122.31Z" fill="#4368fe"/>
<path d="M82.03 120.4L81.9 118.55L81.5 116.73L80.86 114.97L79.99 113.31L78.92 111.77L77.68 110.37L76.29 109.15L74.8 108.12L73.25 107.3L71.66 106.7L69.85 106.34L67.62 106.22L65.96 106.34L64.54 106.7L63.31 107.3L62.24 108.12L61.31 109.15L60.52 110.37L59.86 111.77L59.33 113.31L58.92 114.97L58.63 116.73L58.45 118.55L58.39 120.4L58.45 122.25L58.63 124.07L58.92 125.83L59.33 127.49L59.86 129.03L60.52 130.43L61.31 131.65L62.24 132.68L63.31 133.5L64.54 134.1L65.96 134.46L67.62 134.58L69.85 134.46L71.66 134.1L73.25 133.5L74.8 132.68L76.29 131.65L77.68 130.43L78.92 129.03L79.99 127.49L80.86 125.83L81.5 124.07L81.9 122.25Z" fill="#3e70ff"/>
<path d="M81.78 120.4L81.65 118.61L81.28 116.86L80.66 115.16L79.83 113.55L78.8 112.06L77.61 110.72L76.28 109.54L74.85 108.54L73.35 107.75L71.82 107.17L70.14 106.83L67.93 106.71L66.32 106.83L64.94 107.17L63.75 107.75L62.71 108.54L61.8 109.54L61.03 110.72L60.39 112.06L59.87 113.55L59.47 115.16L59.18 116.86L59.01 118.61L58.96 120.4L59.01 122.19L59.18 123.94L59.47 125.64L59.87 127.25L60.39 128.74L61.03 130.08L61.8 131.26L62.71 132.26L63.75 133.05L64.94 133.63L66.32 133.97L67.93 134.09L70.14 133.97L71.82 133.63L73.35 133.05L74.85 132.26L76.28 131.26L77.61 130.08L78.8 128.74L79.83 127.25L80.66 125.64L81.28 123.94L81.65 122.19Z" fill="#3578fd"/>
<path d="M81.53 120.4L81.41 118.68L81.05 116.98L80.46 115.35L79.66 113.8L78.68 112.36L77.53 111.06L76.26 109.93L74.89 108.97L73.45 108.2L71.98 107.65L70.45 107.31L68.24 107.2L66.67 107.31L65.34 107.65L64.18 108.2L63.17 108.97L62.29 109.93L61.54 111.06L60.92 112.36L60.41 113.8L60.02 115.35L59.74 116.98L59.58 118.68L59.52 120.4L59.58 122.12L59.74 123.82L60.02 125.45L60.41 127L60.92 128.44L61.54 129.74L62.29 130.87L63.17 131.83L64.18 132.6L65.34 133.15L66.67 133.49L68.24 133.6L70.45 133.49L71.98 133.15L73.45 132.6L74.89 131.83L76.26 130.87L77.53 129.74L78.68 128.44L79.66 127L80.46 125.45L81.05 123.82L81.41 122.12Z" fill="#2f81fa"/>
<path d="M81.27 120.4L81.16 118.74L80.82 117.11L80.26 115.53L79.5 114.04L78.55 112.66L77.46 111.41L76.24 110.31L74.92 109.39L73.54 108.65L72.13 108.12L70.71 107.79L68.54 107.69L67.02 107.79L65.73 108.12L64.61 108.65L63.63 109.39L62.78 110.31L62.05 111.41L61.44 112.66L60.95 114.04L60.57 115.53L60.3 117.11L60.14 118.74L60.08 120.4L60.14 122.06L60.3 123.69L60.57 125.27L60.95 126.76L61.44 128.14L62.05 129.39L62.78 130.49L63.63 131.41L64.61 132.15L65.73 132.68L67.02 133.01L68.54 133.11L70.71 133.01L72.13 132.68L73.54 132.15L74.92 131.41L76.24 130.49L77.46 129.39L78.55 128.14L79.5 126.76L80.26 125.27L80.82 123.69L81.16 122.06Z" fill="#2d8af5"/>
<path d="M81.02 120.4L80.91 118.8L80.58 117.24L80.05 115.72L79.32 114.29L78.43 112.96L77.38 111.76L76.21 110.7L74.95 109.81L73.63 109.11L72.28 108.59L70.92 108.28L68.84 108.18L67.37 108.28L66.12 108.59L65.03 109.11L64.09 109.81L63.26 110.7L62.56 111.76L61.97 112.96L61.49 114.29L61.12 115.72L60.86 117.24L60.7 118.8L60.65 120.4L60.7 122L60.86 123.56L61.12 125.08L61.49 126.51L61.97 127.84L62.56 129.04L63.26 130.1L64.09 130.99L65.03 131.69L66.12 132.21L67.37 132.52L68.84 132.62L70.92 132.52L72.28 132.21L73.63 131.69L74.95 130.99L76.21 130.1L77.38 129.04L78.43 127.84L79.32 126.51L80.05 125.08L80.58 123.56L80.91 122Z" fill="#2a93ee"/>
<path d="M80.77 120.4L80.66 118.87L80.35 117.36L79.84 115.91L79.15 114.53L78.29 113.26L77.29 112.1L76.18 111.09L74.97 110.24L73.71 109.56L72.41 109.06L71.1 108.76L69.12 108.66L67.7 108.76L66.49 109.06L65.45 109.56L64.53 110.24L63.74 111.09L63.05 112.1L62.48 113.26L62.02 114.53L61.66 115.91L61.41 117.36L61.26 118.87L61.21 120.4L61.26 121.93L61.41 123.44L61.66 124.89L62.02 126.27L62.48 127.54L63.05 128.7L63.74 129.71L64.53 130.56L65.45 131.24L66.49 131.74L67.7 132.04L69.12 132.14L71.1 132.04L72.41 131.74L73.71 131.24L74.97 130.56L76.18 129.71L77.29 128.7L78.29 127.54L79.15 126.27L79.84 124.89L80.35 123.44L80.66 121.93Z" fill="#259ce7"/>
<path d="M80.51 120.4L80.41 118.93L80.11 117.49L79.62 116.1L78.96 114.78L78.14 113.55L77.18 112.45L76.11 111.48L74.96 110.66L73.75 110.01L72.5 109.54L71.25 109.25L69.35 109.15L67.99 109.25L66.83 109.54L65.83 110.01L64.95 110.66L64.19 111.48L63.54 112.45L62.99 113.55L62.55 114.78L62.2 116.1L61.96 117.49L61.81 118.93L61.77 120.4L61.81 121.87L61.96 123.31L62.2 124.7L62.55 126.02L62.99 127.25L63.54 128.35L64.19 129.32L64.95 130.14L65.83 130.79L66.83 131.26L67.99 131.55L69.35 131.65L71.25 131.55L72.5 131.26L73.75 130.79L74.96 130.14L76.11 129.32L77.18 128.35L78.14 127.25L78.96 126.02L79.62 124.7L80.11 123.31L80.41 121.87Z" fill="#20a5e2"/>
<path d="M80.25 120.4L80.16 119L79.87 117.62L79.41 116.28L78.77 115.02L77.98 113.85L77.07 112.79L76.05 111.87L74.94 111.08L73.78 110.46L72.59 110.01L71.4 109.73L69.58 109.64L68.27 109.73L67.17 110.01L66.21 110.46L65.37 111.08L64.64 111.87L64.02 112.79L63.5 113.85L63.07 115.02L62.74 116.28L62.51 117.62L62.37 119L62.32 120.4L62.37 121.8L62.51 123.18L62.74 124.52L63.07 125.78L63.5 126.95L64.02 128.01L64.64 128.93L65.37 129.72L66.21 130.34L67.17 130.79L68.27 131.07L69.58 131.16L71.4 131.07L72.59 130.79L73.78 130.34L74.94 129.72L76.05 128.93L77.07 128.01L77.98 126.95L78.77 125.78L79.41 124.52L79.87 123.18L80.16 121.8Z" fill="#18addb"/>
<path d="M79.99 120.4L79.9 119.06L79.63 117.74L79.18 116.47L78.58 115.27L77.83 114.15L76.95 113.14L75.98 112.25L74.92 111.51L73.82 110.91L72.68 110.48L71.54 110.22L69.8 110.13L68.56 110.22L67.51 110.48L66.59 110.91L65.79 111.51L65.09 112.25L64.5 113.14L64 114.15L63.59 115.27L63.28 116.47L63.06 117.74L62.92 119.06L62.88 120.4L62.92 121.74L63.06 123.06L63.28 124.33L63.59 125.53L64 126.65L64.5 127.66L65.09 128.55L65.79 129.29L66.59 129.89L67.51 130.32L68.56 130.58L69.8 130.67L71.54 130.58L72.68 130.32L73.82 129.89L74.92 129.29L75.98 128.55L76.95 127.66L77.83 126.65L78.58 125.53L79.18 124.33L79.63 123.06L79.9 121.74Z" fill="#07b5cf"/>
<path d="M79.73 120.4L79.65 119.12L79.39 117.87L78.96 116.66L78.39 115.51L77.67 114.45L76.84 113.48L75.91 112.64L74.9 111.93L73.85 111.36L72.77 110.95L71.68 110.7L70.03 110.62L68.84 110.7L67.84 110.95L66.97 111.36L66.2 111.93L65.54 112.64L64.97 113.48L64.5 114.45L64.11 115.51L63.82 116.66L63.6 117.87L63.48 119.12L63.43 120.4L63.48 121.68L63.6 122.93L63.82 124.14L64.11 125.29L64.5 126.35L64.97 127.32L65.54 128.16L66.2 128.87L66.97 129.44L67.84 129.85L68.84 130.1L70.03 130.18L71.68 130.1L72.77 129.85L73.85 129.44L74.9 128.87L75.91 128.16L76.84 127.32L77.67 126.35L78.39 125.29L78.96 124.14L79.39 122.93L79.65 121.68Z" fill="#04bbc1"/>
<path d="M79.47 120.4L79.39 119.19L79.14 118L78.74 116.84L78.19 115.75L77.51 114.74L76.72 113.83L75.84 113.03L74.88 112.35L73.88 111.82L72.85 111.43L71.82 111.19L70.25 111.11L69.13 111.19L68.17 111.43L67.34 111.82L66.62 112.35L65.99 113.03L65.45 113.83L65 114.74L64.63 115.75L64.35 116.84L64.15 118L64.03 119.19L63.99 120.4L64.03 121.61L64.15 122.8L64.35 123.96L64.63 125.05L65 126.06L65.45 126.97L65.99 127.77L66.62 128.45L67.34 128.98L68.17 129.37L69.13 129.61L70.25 129.69L71.82 129.61L72.85 129.37L73.88 128.98L74.88 128.45L75.84 127.77L76.72 126.97L77.51 126.06L78.19 125.05L78.74 123.96L79.14 122.8L79.39 121.61Z" fill="#1ec0b2"/>
<path d="M79.21 120.4L79.13 119.25L78.89 118.12L78.51 117.03L77.99 116L77.35 115.04L76.6 114.18L75.76 113.42L74.86 112.78L73.91 112.27L72.94 111.9L71.96 111.67L70.47 111.6L69.41 111.67L68.5 111.9L67.72 112.27L67.03 112.78L66.43 113.42L65.92 114.18L65.5 115.04L65.15 116L64.88 117.03L64.69 118.12L64.57 119.25L64.54 120.4L64.57 121.55L64.69 122.68L64.88 123.77L65.15 124.8L65.5 125.76L65.92 126.62L66.43 127.38L67.03 128.02L67.72 128.53L68.5 128.9L69.41 129.13L70.47 129.2L71.96 129.13L72.94 128.9L73.91 128.53L74.86 128.02L75.76 127.38L76.6 126.62L77.35 125.76L77.99 124.8L78.51 123.77L78.89 122.68L79.13 121.55Z" fill="#30c5a1"/>
<path d="M78.94 120.4L78.86 119.31L78.64 118.25L78.28 117.22L77.79 116.24L77.19 115.34L76.48 114.52L75.69 113.8L74.83 113.2L73.94 112.72L73.02 112.37L72.09 112.16L70.69 112.09L69.68 112.16L68.83 112.37L68.09 112.72L67.44 113.2L66.88 113.8L66.39 114.52L65.99 115.34L65.66 116.24L65.41 117.22L65.23 118.25L65.12 119.31L65.08 120.4L65.12 121.49L65.23 122.55L65.41 123.58L65.66 124.56L65.99 125.46L66.39 126.28L66.88 127L67.44 127.6L68.09 128.08L68.83 128.43L69.68 128.64L70.69 128.71L72.09 128.64L73.02 128.43L73.94 128.08L74.83 127.6L75.69 127L76.48 126.28L77.19 125.46L77.79 124.56L78.28 123.58L78.64 122.55L78.86 121.49Z" fill="#40ca8d"/>
<path d="M78.67 120.4L78.6 119.38L78.39 118.37L78.05 117.41L77.59 116.49L77.02 115.64L76.35 114.87L75.61 114.19L74.81 113.62L73.96 113.17L73.1 112.84L72.23 112.64L70.9 112.58L69.96 112.64L69.15 112.84L68.46 113.17L67.85 113.62L67.32 114.19L66.86 114.87L66.48 115.64L66.17 116.49L65.93 117.41L65.76 118.37L65.66 119.38L65.63 120.4L65.66 121.42L65.76 122.43L65.93 123.39L66.17 124.31L66.48 125.16L66.86 125.93L67.32 126.61L67.85 127.18L68.46 127.63L69.15 127.96L69.96 128.16L70.9 128.22L72.23 128.16L73.1 127.96L73.96 127.63L74.81 127.18L75.61 126.61L76.35 125.93L77.02 125.16L77.59 124.31L78.05 123.39L78.39 122.43L78.6 121.42Z" fill="#5dcc75"/>
<path d="M78.4 120.4L78.33 119.44L78.14 118.5L77.82 117.59L77.38 116.73L76.85 115.93L76.22 115.21L75.53 114.58L74.77 114.05L73.98 113.62L73.17 113.31L72.36 113.13L71.12 113.07L70.23 113.13L69.48 113.31L68.82 113.62L68.25 114.05L67.75 114.58L67.33 115.21L66.97 115.93L66.68 116.73L66.46 117.59L66.3 118.5L66.2 119.44L66.17 120.4L66.2 121.36L66.3 122.3L66.46 123.21L66.68 124.07L66.97 124.87L67.33 125.59L67.75 126.22L68.25 126.75L68.82 127.18L69.48 127.49L70.23 127.67L71.12 127.73L72.36 127.67L73.17 127.49L73.98 127.18L74.77 126.75L75.53 126.22L76.22 125.59L76.85 124.87L77.38 124.07L77.82 123.21L78.14 122.3L78.33 121.36Z" fill="#7dcc5b"/>
<path d="M78.12 120.4L78.06 119.51L77.88 118.63L77.58 117.78L77.17 116.98L76.67 116.23L76.09 115.56L75.44 114.97L74.74 114.47L74 114.08L73.24 113.79L72.48 113.61L71.32 113.55L70.5 113.61L69.79 113.79L69.18 114.08L68.65 114.47L68.18 114.97L67.79 115.56L67.45 116.23L67.18 116.98L66.98 117.78L66.83 118.63L66.74 119.51L66.71 120.4L66.74 121.29L66.83 122.17L66.98 123.02L67.18 123.82L67.45 124.57L67.79 125.24L68.18 125.83L68.65 126.33L69.18 126.72L69.79 127.01L70.5 127.19L71.32 127.25L72.48 127.19L73.24 127.01L74 126.72L74.74 126.33L75.44 125.83L76.09 125.24L76.67 124.57L77.17 123.82L77.58 123.02L77.88 122.17L78.06 121.29Z" fill="#9fc942"/>
<path d="M77.84 120.4L77.78 119.57L77.61 118.75L77.34 117.97L76.96 117.22L76.5 116.53L75.96 115.9L75.35 115.36L74.7 114.89L74.01 114.53L73.31 114.26L72.6 114.1L71.53 114.04L70.76 114.1L70.11 114.26L69.54 114.53L69.04 114.89L68.61 115.36L68.24 115.9L67.94 116.53L67.68 117.22L67.49 117.97L67.35 118.75L67.27 119.57L67.24 120.4L67.27 121.23L67.35 122.05L67.49 122.83L67.68 123.58L67.94 124.27L68.24 124.9L68.61 125.44L69.04 125.91L69.54 126.27L70.11 126.54L70.76 126.7L71.53 126.76L72.6 126.7L73.31 126.54L74.01 126.27L74.7 125.91L75.35 125.44L75.96 124.9L76.5 124.27L76.96 123.58L77.34 122.83L77.61 122.05L77.78 121.23Z" fill="#bdc32e"/>
<path d="M77.55 120.4L77.5 119.63L77.34 118.88L77.09 118.15L76.74 117.47L76.31 116.83L75.81 116.25L75.26 115.74L74.66 115.32L74.02 114.98L73.37 114.73L72.72 114.58L71.73 114.53L71.02 114.58L70.42 114.73L69.89 114.98L69.43 115.32L69.04 115.74L68.7 116.25L68.41 116.83L68.18 117.47L68 118.15L67.87 118.88L67.8 119.63L67.77 120.4L67.8 121.17L67.87 121.92L68 122.65L68.18 123.33L68.41 123.97L68.7 124.55L69.04 125.06L69.43 125.48L69.89 125.82L70.42 126.07L71.02 126.22L71.73 126.27L72.72 126.22L73.37 126.07L74.02 125.82L74.66 125.48L75.26 125.06L75.81 124.55L76.31 123.97L76.74 123.33L77.09 122.65L77.34 121.92L77.5 121.17Z" fill="#d8be28"/>
<path d="M77.26 120.4L77.21 119.7L77.07 119.01L76.84 118.34L76.52 117.71L76.13 117.13L75.67 116.6L75.16 116.13L74.61 115.74L74.03 115.43L73.43 115.2L72.83 115.07L71.92 115.02L71.27 115.07L70.72 115.2L70.24 115.43L69.82 115.74L69.46 116.13L69.14 116.6L68.88 117.13L68.67 117.71L68.51 118.34L68.39 119.01L68.32 119.7L68.3 120.4L68.32 121.1L68.39 121.79L68.51 122.46L68.67 123.09L68.88 123.67L69.14 124.2L69.46 124.67L69.82 125.06L70.24 125.37L70.72 125.6L71.27 125.73L71.92 125.78L72.83 125.73L73.43 125.6L74.03 125.37L74.61 125.06L75.16 124.67L75.67 124.2L76.13 123.67L76.52 123.09L76.84 122.46L77.07 121.79L77.21 121.1Z" fill="#edba33"/>
<path d="M76.97 120.4L76.92 119.76L76.79 119.13L76.58 118.53L76.29 117.96L75.93 117.42L75.52 116.94L75.05 116.52L74.55 116.17L74.02 115.88L73.48 115.68L72.94 115.55L72.11 115.51L71.52 115.55L71.02 115.68L70.58 115.88L70.2 116.17L69.87 116.52L69.59 116.94L69.35 117.42L69.16 117.96L69.01 118.53L68.9 119.13L68.84 119.76L68.82 120.4L68.84 121.04L68.9 121.67L69.01 122.27L69.16 122.84L69.35 123.38L69.59 123.86L69.87 124.28L70.2 124.63L70.58 124.92L71.02 125.12L71.52 125.25L72.11 125.29L72.94 125.25L73.48 125.12L74.02 124.92L74.55 124.63L75.05 124.28L75.52 123.86L75.93 123.38L76.29 122.85L76.58 122.27L76.79 121.67L76.92 121.04Z" fill="#fcbd3d"/>
<path d="M76.66 120.4L76.62 119.83L76.51 119.26L76.32 118.72L76.06 118.2L75.73 117.72L75.36 117.29L74.94 116.91L74.49 116.59L74.02 116.33L73.53 116.15L73.04 116.04L72.3 116L71.76 116.04L71.31 116.15L70.92 116.33L70.57 116.59L70.28 116.91L70.02 117.29L69.81 117.72L69.63 118.2L69.5 118.72L69.4 119.26L69.35 119.83L69.33 120.4L69.35 120.97L69.4 121.54L69.5 122.08L69.63 122.6L69.81 123.08L70.02 123.51L70.28 123.89L70.57 124.21L70.92 124.47L71.31 124.65L71.76 124.76L72.3 124.8L73.04 124.76L73.53 124.65L74.02 124.47L74.49 124.21L74.94 123.89L75.36 123.51L75.73 123.08L76.06 122.6L76.32 122.08L76.51 121.54L76.62 120.97Z" fill="#fec735"/>
<path d="M76.35 120.4L76.32 119.89L76.21 119.39L76.04 118.9L75.81 118.44L75.53 118.02L75.19 117.63L74.82 117.3L74.42 117.01L74 116.79L73.57 116.62L73.13 116.52L72.47 116.49L72 116.52L71.6 116.62L71.25 116.79L70.94 117.01L70.68 117.3L70.45 117.63L70.26 118.02L70.1 118.44L69.99 118.9L69.9 119.39L69.85 119.89L69.83 120.4L69.85 120.91L69.9 121.41L69.99 121.9L70.1 122.36L70.26 122.78L70.45 123.17L70.68 123.5L70.94 123.79L71.25 124.01L71.6 124.18L72 124.28L72.47 124.31L73.13 124.28L73.57 124.18L74 124.01L74.42 123.79L74.82 123.5L75.19 123.17L75.53 122.78L75.81 122.36L76.04 121.9L76.21 121.41L76.32 120.91Z" fill="#fbd22f"/>
<path d="M76.03 120.4L76 119.95L75.91 119.51L75.76 119.09L75.56 118.69L75.31 118.32L75.02 117.98L74.7 117.68L74.34 117.44L73.98 117.24L73.6 117.09L73.22 117.01L72.64 116.98L72.22 117.01L71.87 117.09L71.57 117.24L71.3 117.44L71.07 117.68L70.87 117.98L70.7 118.32L70.57 118.69L70.46 119.09L70.39 119.51L70.34 119.95L70.33 120.4L70.34 120.85L70.39 121.29L70.46 121.71L70.57 122.11L70.7 122.48L70.87 122.82L71.07 123.12L71.3 123.36L71.57 123.56L71.87 123.71L72.22 123.79L72.64 123.82L73.22 123.79L73.6 123.71L73.98 123.56L74.34 123.36L74.7 123.12L75.02 122.82L75.31 122.48L75.56 122.11L75.76 121.71L75.91 121.29L76 120.85Z" fill="#f7dc2a"/>
<path d="M75.71 120.4L75.68 120.02L75.6 119.64L75.48 119.28L75.3 118.93L75.09 118.61L74.84 118.33L74.56 118.07L74.26 117.86L73.94 117.69L73.62 117.57L73.29 117.49L72.8 117.47L72.44 117.49L72.14 117.57L71.88 117.69L71.65 117.86L71.45 118.07L71.28 118.33L71.14 118.61L71.02 118.93L70.93 119.28L70.87 119.64L70.83 120.02L70.82 120.4L70.83 120.78L70.87 121.16L70.93 121.52L71.02 121.87L71.14 122.19L71.28 122.47L71.45 122.73L71.65 122.94L71.88 123.11L72.14 123.23L72.44 123.31L72.8 123.33L73.29 123.31L73.62 123.23L73.94 123.11L74.26 122.94L74.56 122.73L74.84 122.47L75.09 122.19L75.3 121.87L75.48 121.52L75.6 121.16L75.68 120.78Z" fill="#f5e526"/>
<path d="M75.37 120.4L75.35 120.08L75.28 119.77L75.18 119.46L75.03 119.18L74.85 118.91L74.65 118.67L74.41 118.46L74.16 118.28L73.9 118.14L73.63 118.04L73.36 117.98L72.94 117.96L72.65 117.98L72.4 118.04L72.18 118.14L71.99 118.28L71.82 118.46L71.68 118.67L71.56 118.91L71.46 119.18L71.39 119.46L71.34 119.77L71.31 120.08L71.29 120.4L71.31 120.72L71.34 121.03L71.39 121.34L71.46 121.62L71.56 121.89L71.68 122.13L71.82 122.34L71.99 122.52L72.18 122.66L72.4 122.76L72.65 122.82L72.94 122.84L73.36 122.82L73.63 122.76L73.9 122.66L74.16 122.52L74.41 122.34L74.65 122.13L74.85 121.89L75.03 121.62L75.18 121.34L75.28 121.03L75.35 120.72Z" fill="#f5ec22"/>
<path d="M75.02 120.4L75 120.14L74.95 119.89L74.87 119.65L74.75 119.42L74.61 119.21L74.44 119.02L74.26 118.85L74.06 118.71L73.84 118.59L73.63 118.51L73.41 118.46L73.08 118.44L72.84 118.46L72.64 118.51L72.47 118.59L72.32 118.71L72.18 118.85L72.07 119.02L71.97 119.21L71.9 119.42L71.84 119.65L71.8 119.89L71.77 120.14L71.76 120.4L71.77 120.66L71.8 120.91L71.84 121.15L71.9 121.38L71.97 121.59L72.07 121.78L72.18 121.95L72.32 122.09L72.47 122.21L72.64 122.29L72.84 122.34L73.08 122.36L73.41 122.34L73.63 122.29L73.84 122.21L74.06 122.09L74.26 121.95L74.44 121.78L74.61 121.59L74.75 121.38L74.87 121.15L74.95 120.91L75 120.66Z" fill="#f6f21e"/>
<path d="M74.66 120.4L74.65 120.21L74.61 120.02L74.54 119.84L74.46 119.67L74.35 119.51L74.23 119.36L74.09 119.24L73.94 119.13L73.78 119.04L73.62 118.98L73.45 118.95L73.2 118.93L73.03 118.95L72.88 118.98L72.75 119.04L72.63 119.13L72.53 119.24L72.45 119.36L72.38 119.51L72.32 119.67L72.27 119.84L72.24 120.02L72.22 120.21L72.22 120.4L72.22 120.59L72.24 120.78L72.27 120.96L72.32 121.13L72.38 121.29L72.45 121.44L72.53 121.56L72.63 121.67L72.75 121.76L72.88 121.82L73.03 121.85L73.2 121.87L73.45 121.85L73.62 121.82L73.78 121.76L73.94 121.67L74.09 121.56L74.23 121.44L74.35 121.29L74.46 121.13L74.54 120.96L74.61 120.78L74.65 120.59Z" fill="#f8f61a"/>
<path d="M74.29 120.4L74.28 120.27L74.25 120.15L74.21 120.03L74.15 119.91L74.08 119.8L74 119.71L73.9 119.62L73.8 119.55L73.7 119.5L73.59 119.46L73.48 119.43L73.32 119.42L73.2 119.43L73.1 119.46L73.01 119.5L72.93 119.55L72.87 119.62L72.81 119.71L72.76 119.8L72.73 119.91L72.7 120.03L72.67 120.15L72.66 120.27L72.66 120.4L72.66 120.53L72.67 120.65L72.7 120.77L72.73 120.89L72.76 121L72.81 121.09L72.87 121.18L72.93 121.25L73.01 121.3L73.1 121.34L73.2 121.37L73.32 121.38L73.48 121.37L73.59 121.34L73.7 121.3L73.8 121.25L73.9 121.18L74 121.09L74.08 121L74.15 120.89L74.21 120.77L74.25 120.65L74.28 120.53Z" fill="#f9f916"/>
<path d="M73.9 120.4L73.9 120.34L73.88 120.27L73.86 120.21L73.83 120.16L73.8 120.1L73.76 120.05L73.71 120.01L73.66 119.98L73.61 119.95L73.55 119.93L73.5 119.92L73.42 119.91L73.36 119.92L73.31 119.93L73.26 119.95L73.22 119.98L73.19 120.01L73.16 120.05L73.14 120.1L73.12 120.16L73.1 120.21L73.09 120.27L73.09 120.34L73.09 120.4L73.09 120.46L73.09 120.53L73.1 120.59L73.12 120.64L73.14 120.7L73.16 120.75L73.19 120.79L73.22 120.82L73.26 120.85L73.31 120.87L73.36 120.88L73.42 120.89L73.5 120.88L73.55 120.87L73.61 120.85L73.66 120.82L73.71 120.79L73.76 120.75L73.8 120.7L73.83 120.64L73.86 120.59L73.88 120.53L73.9 120.46Z" fill="#f9fb15"/>
<path d="M84.74 120.4L84.54 117.85L83.95 115.34L82.98 112.91L81.68 110.62L80.08 108.49L78.24 106.57L76.22 104.88L74.06 103.46L71.83 102.33L69.59 101.51L66.5 101.01L63.85 100.84L61.71 101.01L59.88 101.51L58.29 102.33L56.92 103.46L55.75 104.88L54.76 106.57L53.94 108.49L53.28 110.62L52.78 112.91L52.42 115.34L52.21 117.85L52.14 120.4L52.21 122.95L52.42 125.46L52.78 127.89L53.28 130.18L53.94 132.31L54.76 134.23L55.75 135.92L56.92 137.34L58.29 138.47L59.88 139.29L61.71 139.79L63.85 139.96L66.5 139.79L69.59 139.29L71.83 138.47L74.06 137.34L76.22 135.92L78.24 134.23L80.08 132.31L81.68 130.18L82.98 127.89L83.95 125.46L84.54 122.95Z" fill="none" stroke="#000" stroke-opacity="0.3" stroke-width="0.5"/>
<path d="M83.11 120.4L82.96 118.27L82.49 116.18L81.72 114.15L80.69 112.24L79.42 110.47L77.94 108.86L76.31 107.45L74.56 106.27L72.75 105.32L70.9 104.64L68.56 104.22L66.19 104.08L64.33 104.22L62.74 104.64L61.36 105.32L60.17 106.27L59.13 107.45L58.26 108.86L57.53 110.47L56.94 112.24L56.49 114.15L56.17 116.18L55.98 118.27L55.91 120.4L55.98 122.53L56.17 124.62L56.49 126.65L56.94 128.56L57.53 130.33L58.26 131.94L59.13 133.35L60.17 134.53L61.36 135.48L62.74 136.16L64.33 136.58L66.19 136.72L68.56 136.58L70.9 136.16L72.75 135.48L74.56 134.53L76.31 133.35L77.94 131.94L79.42 130.33L80.69 128.56L81.72 126.65L82.49 124.62L82.96 122.53Z" fill="none" stroke="#000" stroke-opacity="0.15" stroke-width="0.5"/>
<path d="M81.77 120.4L81.65 118.61L81.27 116.86L80.66 115.16L79.83 113.56L78.8 112.07L77.61 110.73L76.28 109.55L74.85 108.55L73.35 107.76L71.83 107.19L70.15 106.84L67.94 106.72L66.33 106.84L64.95 107.19L63.76 107.76L62.72 108.55L61.82 109.55L61.05 110.73L60.4 112.07L59.88 113.56L59.48 115.16L59.2 116.86L59.03 118.61L58.97 120.4L59.03 122.19L59.2 123.94L59.48 125.64L59.88 127.24L60.4 128.73L61.05 130.07L61.82 131.25L62.72 132.25L63.76 133.04L64.95 133.61L66.33 133.96L67.94 134.08L70.15 133.96L71.83 133.61L73.35 133.04L74.85 132.25L76.28 131.25L77.61 130.07L78.8 128.73L79.83 127.24L80.66 125.64L81.27 123.94L81.65 122.19Z" fill="none" stroke="#000" stroke-opacity="0.15" stroke-width="0.5"/>
<path d="M80.53 120.4L80.43 118.93L80.13 117.48L79.64 116.08L78.97 114.76L78.15 113.53L77.19 112.42L76.12 111.45L74.96 110.63L73.74 109.98L72.49 109.5L71.24 109.22L69.33 109.12L67.97 109.22L66.81 109.5L65.8 109.98L64.92 110.63L64.16 111.45L63.5 112.42L62.96 113.53L62.51 114.76L62.17 116.08L61.92 117.48L61.78 118.93L61.73 120.4L61.78 121.87L61.92 123.32L62.17 124.72L62.51 126.04L62.96 127.27L63.5 128.38L64.16 129.35L64.92 130.17L65.8 130.82L66.81 131.3L67.97 131.58L69.33 131.68L71.24 131.58L72.49 131.3L73.74 130.82L74.96 130.17L76.12 129.35L77.19 128.38L78.15 127.27L78.97 126.04L79.64 124.72L80.13 123.32L80.43 121.87Z" fill="none" stroke="#000" stroke-opacity="0.15" stroke-width="0.5"/>
<path d="M79.38 120.4L79.3 119.21L79.06 118.04L78.66 116.91L78.12 115.84L77.45 114.85L76.68 113.95L75.81 113.16L74.88 112.5L73.89 111.97L72.88 111.59L71.87 111.36L70.33 111.28L69.22 111.36L68.29 111.59L67.47 111.97L66.76 112.5L66.14 113.16L65.62 113.95L65.17 114.85L64.81 115.84L64.53 116.91L64.34 118.04L64.22 119.21L64.18 120.4L64.22 121.59L64.34 122.76L64.53 123.89L64.81 124.96L65.17 125.95L65.62 126.85L66.14 127.64L66.76 128.3L67.47 128.83L68.29 129.21L69.22 129.44L70.33 129.52L71.87 129.44L72.88 129.21L73.89 128.83L74.88 128.3L75.81 127.64L76.68 126.85L77.45 125.95L78.12 124.96L78.66 123.89L79.06 122.76L79.3 121.59Z" fill="none" stroke="#000" stroke-opacity="0.15" stroke-width="0.5"/>
<path d="M78.32 120.4L78.26 119.46L78.06 118.54L77.75 117.64L77.33 116.8L76.8 116.02L76.19 115.31L75.5 114.69L74.76 114.16L73.99 113.75L73.19 113.45L72.39 113.26L71.17 113.2L70.3 113.26L69.56 113.45L68.92 113.75L68.36 114.16L67.87 114.69L67.45 115.31L67.1 116.02L66.82 116.8L66.6 117.64L66.44 118.54L66.35 119.46L66.32 120.4L66.35 121.34L66.44 122.26L66.6 123.16L66.82 124L67.1 124.78L67.45 125.49L67.87 126.11L68.36 126.64L68.92 127.05L69.56 127.35L70.3 127.54L71.17 127.6L72.39 127.54L73.19 127.35L73.99 127.05L74.76 126.64L75.5 126.11L76.19 125.49L76.8 124.78L77.33 124L77.75 123.16L78.06 122.26L78.26 121.34Z" fill="none" stroke="#000" stroke-opacity="0.15" stroke-width="0.5"/>
<path d="M77.35 120.4L77.3 119.68L77.15 118.97L76.91 118.29L76.59 117.64L76.18 117.04L75.71 116.5L75.19 116.02L74.62 115.62L74.03 115.3L73.42 115.07L72.8 114.93L71.87 114.88L71.2 114.93L70.63 115.07L70.14 115.3L69.71 115.62L69.34 116.02L69.02 116.5L68.75 117.04L68.53 117.64L68.36 118.29L68.24 118.97L68.17 119.68L68.15 120.4L68.17 121.12L68.24 121.83L68.36 122.51L68.53 123.16L68.75 123.76L69.02 124.3L69.34 124.78L69.71 125.18L70.14 125.5L70.63 125.73L71.2 125.87L71.87 125.92L72.8 125.87L73.42 125.73L74.03 125.5L74.62 125.18L75.19 124.78L75.71 124.3L76.18 123.76L76.59 123.16L76.91 122.51L77.15 121.83L77.3 121.12Z" fill="none" stroke="#000" stroke-opacity="0.18" stroke-width="0.5"/>
<path d="M76.38 120.4L76.35 119.88L76.24 119.38L76.07 118.88L75.84 118.42L75.55 117.99L75.21 117.6L74.83 117.26L74.43 116.97L74 116.74L73.56 116.57L73.12 116.47L72.45 116.44L71.97 116.47L71.57 116.57L71.21 116.74L70.91 116.97L70.64 117.26L70.41 117.6L70.22 117.99L70.06 118.42L69.94 118.88L69.85 119.38L69.8 119.88L69.78 120.4L69.8 120.92L69.85 121.42L69.94 121.92L70.06 122.38L70.22 122.81L70.41 123.2L70.64 123.54L70.91 123.83L71.21 124.06L71.57 124.23L71.97 124.33L72.45 124.36L73.12 124.33L73.56 124.23L74 124.06L74.43 123.83L74.83 123.54L75.21 123.2L75.55 122.81L75.84 122.38L76.07 121.92L76.24 121.42L76.35 120.92Z" fill="none" stroke="#000" stroke-opacity="0.2" stroke-width="0.5"/>
<path d="M75.51 120.4L75.48 120.06L75.41 119.72L75.3 119.39L75.14 119.08L74.95 118.79L74.72 118.53L74.47 118.31L74.2 118.11L73.92 117.96L73.63 117.85L73.33 117.78L72.89 117.76L72.57 117.78L72.3 117.85L72.06 117.96L71.85 118.11L71.67 118.31L71.52 118.53L71.39 118.79L71.29 119.08L71.21 119.39L71.15 119.72L71.12 120.06L71.11 120.4L71.12 120.74L71.15 121.08L71.21 121.41L71.29 121.72L71.39 122.01L71.52 122.27L71.67 122.49L71.85 122.69L72.06 122.84L72.3 122.95L72.57 123.02L72.89 123.04L73.33 123.02L73.63 122.95L73.92 122.84L74.2 122.69L74.47 122.49L74.72 122.27L74.95 122.01L75.14 121.72L75.3 121.41L75.41 121.08L75.48 120.74Z" fill="none" stroke="#000" stroke-opacity="0.15" stroke-width="0.5"/>
<path d="M90.5 120.4C90.5 118.5 90.22 116.5 89.6 114.7C88.98 112.9 88.02 111.35 86.8 109.6C85.58 107.85 84.02 105.92 82.3 104.2C80.58 102.48 78.63 100.73 76.5 99.3C74.37 97.87 71.83 96.62 69.5 95.6C67.17 94.58 64.75 93.7 62.5 93.2C60.25 92.7 58.08 92.47 56 92.6C53.92 92.73 51.73 93.17 50 94C48.27 94.83 46.77 96.1 45.6 97.6C44.43 99.1 43.62 101.13 43 103C42.38 104.87 42.12 106.88 41.9 108.8C41.68 110.72 41.73 112.57 41.7 114.5C41.67 116.43 41.7 118.43 41.7 120.4C41.7 122.37 41.67 124.37 41.7 126.3C41.73 128.23 41.68 130.08 41.9 132C42.12 133.92 42.38 135.93 43 137.8C43.62 139.67 44.43 141.7 45.6 143.2C46.77 144.7 48.27 145.97 50 146.8C51.73 147.63 53.92 148.07 56 148.2C58.08 148.33 60.25 148.1 62.5 147.6C64.75 147.1 67.17 146.22 69.5 145.2C71.83 144.18 74.37 142.93 76.5 141.5C78.63 140.07 80.58 138.32 82.3 136.6C84.02 134.88 85.58 132.95 86.8 131.2C88.02 129.45 88.98 127.9 89.6 126.1C90.22 124.3 90.5 122.3 90.5 120.4Z" fill="none" stroke="#f6f2fb" stroke-width="1.1"/>
<path d="M19.4 57.9V182.9H117.6" fill="none" stroke="#9a9a9a" stroke-width="0.6"/>
<path d="M19.4 57.9H117.6V182.9" fill="none" stroke="#9a9a9a" stroke-width="0.5" stroke-opacity="0.6"/>
<path d="M19.4 182.9v-1.2M19.4 57.9v1.2M60.32 182.9v-1.2M60.32 57.9v1.2M101.23 182.9v-1.2M101.23 57.9v1.2M19.4 182.9h1.2M117.6 182.9h-1.2M19.4 167.28h1.2M117.6 167.28h-1.2M19.4 151.65h1.2M117.6 151.65h-1.2M19.4 136.03h1.2M117.6 136.03h-1.2M19.4 120.4h1.2M117.6 120.4h-1.2M19.4 104.78h1.2M117.6 104.78h-1.2M19.4 89.15h1.2M117.6 89.15h-1.2M19.4 73.52h1.2M117.6 73.52h-1.2M19.4 57.9h1.2M117.6 57.9h-1.2" fill="none" stroke="#9a9a9a" stroke-width="0.5"/>
<g font-size="5.8" fill="#2a2a2a">
<text x="19.4" y="190.9" text-anchor="middle">0</text>
<text x="60.32" y="190.9" text-anchor="middle">0.5</text>
<text x="101.23" y="190.9" text-anchor="middle">1</text>
<text x="17.9" y="60.2" text-anchor="end">0.8</text>
<text x="17.9" y="75.82" text-anchor="end">0.6</text>
<text x="17.9" y="91.45" text-anchor="end">0.4</text>
<text x="17.9" y="107.08" text-anchor="end">0.2</text>
<text x="17.9" y="122.7" text-anchor="end">0</text>
<text x="17.9" y="138.33" text-anchor="end">-0.2</text>
<text x="17.9" y="153.95" text-anchor="end">-0.4</text>
<text x="17.9" y="169.58" text-anchor="end">-0.6</text>
<text x="17.9" y="185.2" text-anchor="end">-0.8</text>
</g>
<text x="69" y="199.5" font-size="6.5" text-anchor="middle" fill="#2a2a2a">R (m)</text>
<text transform="translate(5.4 120.5) rotate(-90)" font-size="6.5" text-anchor="middle" fill="#2a2a2a">Z (m)</text>
<text x="68.8" y="54.7" font-size="6.35" font-weight="bold" text-anchor="middle" fill="#111">SXR emissivity (5 - 20 keV)</text>
<rect x="120.9" y="57.9" width="5.9" height="125" fill="url(#pg)" stroke="#9a9a9a" stroke-width="0.4"/>
<g font-size="5.2" fill="#2a2a2a">
<path d="M126.8 182.9h-1" stroke="#9a9a9a" stroke-width="0.4"/>
<text x="128.9" y="185.2">0</text>
<path d="M126.8 168.7h-1" stroke="#9a9a9a" stroke-width="0.4"/>
<text x="128.9" y="171">0.05</text>
<path d="M126.8 154.49h-1" stroke="#9a9a9a" stroke-width="0.4"/>
<text x="128.9" y="156.79">0.1</text>
<path d="M126.8 140.29h-1" stroke="#9a9a9a" stroke-width="0.4"/>
<text x="128.9" y="142.59">0.15</text>
<path d="M126.8 126.08h-1" stroke="#9a9a9a" stroke-width="0.4"/>
<text x="128.9" y="128.38">0.2</text>
<path d="M126.8 111.88h-1" stroke="#9a9a9a" stroke-width="0.4"/>
<text x="128.9" y="114.18">0.25</text>
<path d="M126.8 97.67h-1" stroke="#9a9a9a" stroke-width="0.4"/>
<text x="128.9" y="99.97">0.3</text>
<path d="M126.8 83.47h-1" stroke="#9a9a9a" stroke-width="0.4"/>
<text x="128.9" y="85.77">0.35</text>
<path d="M126.8 69.26h-1" stroke="#9a9a9a" stroke-width="0.4"/>
<text x="128.9" y="71.56">0.4</text>
</g>
<text transform="translate(146.9 119.8) rotate(-90)" font-size="5.45" text-anchor="middle" fill="#2a2a2a">SXR emissivity (kW.m<tspan font-size="3.6" dy="-2.2">-3</tspan><tspan dy="2.2">)</tspan></text>
</g>
</g>
</svg>
</body></html>
